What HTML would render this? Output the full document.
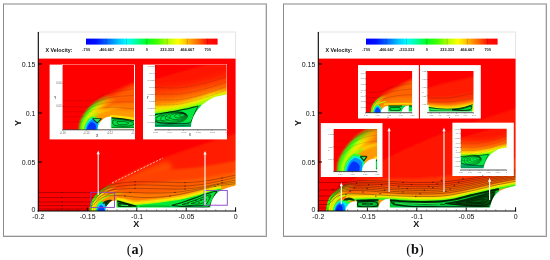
<!DOCTYPE html><html><head><meta charset="utf-8"><title>Figure</title><style>html,body{margin:0;padding:0;background:#fff}body{width:550px;height:260px;overflow:hidden}svg{display:block}text{font-family:"Liberation Sans",sans-serif;fill:#111}</style></head><body>
<svg width="550" height="260" viewBox="0 0 550 260">
<defs>
<linearGradient id="cbar" x1="0" x2="1" y1="0" y2="0">
<stop offset="0.000" stop-color="#0000ff"/>
<stop offset="0.077" stop-color="#0010ff"/>
<stop offset="0.155" stop-color="#0060ff"/>
<stop offset="0.250" stop-color="#00c8ff"/>
<stop offset="0.310" stop-color="#00ffff"/>
<stop offset="0.390" stop-color="#00ff90"/>
<stop offset="0.460" stop-color="#00ff20"/>
<stop offset="0.540" stop-color="#40ff00"/>
<stop offset="0.620" stop-color="#b0ff00"/>
<stop offset="0.700" stop-color="#ffff00"/>
<stop offset="0.780" stop-color="#ffb000"/>
<stop offset="0.860" stop-color="#ff6000"/>
<stop offset="0.925" stop-color="#ff1000"/>
<stop offset="1.000" stop-color="#ff0000"/>
</linearGradient>
<filter id="b05" x="-20%" y="-20%" width="140%" height="140%"><feGaussianBlur stdDeviation="0.5"/></filter>
<filter id="b08" x="-20%" y="-20%" width="140%" height="140%"><feGaussianBlur stdDeviation="0.8"/></filter>
<filter id="b12" x="-20%" y="-20%" width="140%" height="140%"><feGaussianBlur stdDeviation="1.2"/></filter>
<filter id="b2" x="-20%" y="-20%" width="140%" height="140%"><feGaussianBlur stdDeviation="2.0"/></filter>
<filter id="b3" x="-20%" y="-20%" width="140%" height="140%"><feGaussianBlur stdDeviation="3.0"/></filter>
<clipPath id="cpA"><rect x="38" y="58" width="198" height="153"/></clipPath>
<clipPath id="cpB"><rect x="318" y="58" width="198" height="153"/></clipPath>
<radialGradient id="noseA" gradientUnits="userSpaceOnUse" cx="100" cy="209" r="30"><stop offset="0" stop-color="#fff"/><stop offset="0.45" stop-color="#fff"/><stop offset="1" stop-color="#000"/></radialGradient>
<mask id="mNoseA" maskUnits="userSpaceOnUse" x="30" y="50" width="220" height="170"><rect x="30" y="50" width="220" height="170" fill="url(#noseA)"/></mask>
<radialGradient id="noseB" gradientUnits="userSpaceOnUse" cx="338" cy="209" r="30"><stop offset="0" stop-color="#fff"/><stop offset="0.45" stop-color="#fff"/><stop offset="1" stop-color="#000"/></radialGradient>
<mask id="mNoseB" maskUnits="userSpaceOnUse" x="310" y="50" width="220" height="170"><rect x="310" y="50" width="220" height="170" fill="url(#noseB)"/></mask>
</defs>
<rect width="550" height="260" fill="#fff"/>
<rect x="3" y="3" width="264" height="2" fill="#c2c2c2"/>
<rect x="4" y="235" width="263" height="1" fill="#dedede"/>
<rect x="265" y="5" width="1" height="231" fill="#dedede"/>
<rect x="3" y="236" width="264" height="1" fill="#929292"/>
<rect x="3" y="4" width="1" height="233" fill="#8c8c8c"/>
<rect x="266" y="4" width="1" height="233" fill="#9a9a9a"/>
<path d="M38.0 32H235.6V58.6" fill="none" stroke="#dcdcdc" stroke-width="0.8"/>
<rect x="86.0" y="38.6" width="131.6" height="6" fill="url(#cbar)"/>
<line x1="106.3" y1="38.6" x2="106.3" y2="44.6" stroke="#000" stroke-opacity="0.35" stroke-width="0.5"/>
<line x1="126.5" y1="38.6" x2="126.5" y2="44.6" stroke="#000" stroke-opacity="0.35" stroke-width="0.5"/>
<line x1="146.8" y1="38.6" x2="146.8" y2="44.6" stroke="#000" stroke-opacity="0.35" stroke-width="0.5"/>
<line x1="167.1" y1="38.6" x2="167.1" y2="44.6" stroke="#000" stroke-opacity="0.35" stroke-width="0.5"/>
<line x1="187.3" y1="38.6" x2="187.3" y2="44.6" stroke="#000" stroke-opacity="0.35" stroke-width="0.5"/>
<line x1="207.6" y1="38.6" x2="207.6" y2="44.6" stroke="#000" stroke-opacity="0.35" stroke-width="0.5"/>
<text x="45.6" y="51.5" font-size="5.3" font-weight="bold">X Velocity:</text>
<text x="86.2" y="51.2" font-size="3.85" font-weight="bold" text-anchor="middle">-700</text>
<text x="106.5" y="51.2" font-size="3.85" font-weight="bold" text-anchor="middle">-466.667</text>
<text x="126.7" y="51.2" font-size="3.85" font-weight="bold" text-anchor="middle">-233.333</text>
<text x="146.9" y="51.2" font-size="3.85" font-weight="bold" text-anchor="middle">0</text>
<text x="167.2" y="51.2" font-size="3.85" font-weight="bold" text-anchor="middle">233.333</text>
<text x="187.4" y="51.2" font-size="3.85" font-weight="bold" text-anchor="middle">466.667</text>
<text x="207.7" y="51.2" font-size="3.85" font-weight="bold" text-anchor="middle">700</text>
<rect x="283" y="3" width="264" height="2" fill="#c2c2c2"/>
<rect x="284" y="235" width="263" height="1" fill="#dedede"/>
<rect x="545" y="5" width="1" height="231" fill="#dedede"/>
<rect x="283" y="236" width="264" height="1" fill="#929292"/>
<rect x="283" y="4" width="1" height="233" fill="#8c8c8c"/>
<rect x="546" y="4" width="1" height="233" fill="#9a9a9a"/>
<path d="M318.0 32H515.6V58.6" fill="none" stroke="#dcdcdc" stroke-width="0.8"/>
<rect x="366.0" y="38.6" width="131.6" height="6" fill="url(#cbar)"/>
<line x1="386.3" y1="38.6" x2="386.3" y2="44.6" stroke="#000" stroke-opacity="0.35" stroke-width="0.5"/>
<line x1="406.5" y1="38.6" x2="406.5" y2="44.6" stroke="#000" stroke-opacity="0.35" stroke-width="0.5"/>
<line x1="426.8" y1="38.6" x2="426.8" y2="44.6" stroke="#000" stroke-opacity="0.35" stroke-width="0.5"/>
<line x1="447.1" y1="38.6" x2="447.1" y2="44.6" stroke="#000" stroke-opacity="0.35" stroke-width="0.5"/>
<line x1="467.4" y1="38.6" x2="467.4" y2="44.6" stroke="#000" stroke-opacity="0.35" stroke-width="0.5"/>
<line x1="487.6" y1="38.6" x2="487.6" y2="44.6" stroke="#000" stroke-opacity="0.35" stroke-width="0.5"/>
<text x="325.6" y="51.5" font-size="5.3" font-weight="bold">X Velocity:</text>
<text x="366.2" y="51.2" font-size="3.85" font-weight="bold" text-anchor="middle">-700</text>
<text x="386.4" y="51.2" font-size="3.85" font-weight="bold" text-anchor="middle">-466.667</text>
<text x="406.7" y="51.2" font-size="3.85" font-weight="bold" text-anchor="middle">-233.333</text>
<text x="426.9" y="51.2" font-size="3.85" font-weight="bold" text-anchor="middle">0</text>
<text x="447.2" y="51.2" font-size="3.85" font-weight="bold" text-anchor="middle">233.333</text>
<text x="467.4" y="51.2" font-size="3.85" font-weight="bold" text-anchor="middle">466.667</text>
<text x="487.7" y="51.2" font-size="3.85" font-weight="bold" text-anchor="middle">700</text>
<g clip-path="url(#cpA)">
<rect x="38" y="58" width="198" height="154" fill="#fe0000"/>
<g filter="url(#b12)">
<path d="M90.0 212.0 C90.1 210.8 90.0 207.2 90.6 205.0 C91.2 202.8 92.3 201.0 93.5 199.0 C94.7 197.0 96.2 194.8 98.0 193.0 C99.8 191.2 102.0 189.5 104.0 188.0 C106.0 186.5 107.7 185.5 110.0 184.0 C112.3 182.5 115.3 180.6 118.0 179.0 C120.7 177.4 122.3 176.2 126.0 174.3 C129.7 172.4 133.8 170.1 140.0 167.4 C146.2 164.7 153.0 161.7 163.0 158.0 C173.0 154.3 187.2 149.3 200.0 145.0 C212.8 140.7 233.3 134.2 240.0 132.0 L240.0 214.0 L90.0 214.0Z" fill="#ff1c00" />
</g><g filter="url(#b2)">
<path d="M97.0 197.0 C98.0 196.1 100.8 193.1 103.0 191.5 C105.2 189.9 107.5 188.9 110.0 187.5 C112.5 186.1 115.2 184.6 118.0 183.0 C120.8 181.4 123.3 179.9 127.0 178.0 C130.7 176.1 135.3 173.6 140.0 171.5 C144.7 169.4 150.3 167.1 155.0 165.5 C159.7 163.9 165.2 161.2 168.0 162.0 C170.8 162.8 173.3 167.5 172.0 170.0 C170.7 172.5 165.3 174.8 160.0 177.0 C154.7 179.2 146.7 181.2 140.0 183.0 C133.3 184.8 126.0 186.0 120.0 188.0 C114.0 190.0 106.7 193.8 104.0 195.0Z" fill="#ff4a00" />
</g><g filter="url(#b12)">
<path d="M91.5 212.0 C91.7 210.8 91.8 207.1 92.5 205.0 C93.2 202.9 94.2 201.2 95.5 199.5 C96.8 197.8 98.2 196.5 100.0 195.0 C101.8 193.5 103.7 191.9 106.0 190.5 C108.3 189.1 111.0 187.9 114.0 186.5 C117.0 185.1 119.7 183.8 124.0 182.0 C128.3 180.2 133.2 177.9 140.0 176.0 C146.8 174.1 155.0 172.0 165.0 170.5 C175.0 169.0 187.5 168.8 200.0 167.0 C212.5 165.2 233.3 161.2 240.0 160.0 L240.0 214.0 L90.0 214.0Z" fill="#ff4200" />
<path d="M93.0 212.0 C93.2 211.0 93.8 207.8 94.5 206.0 C95.2 204.2 96.2 202.6 97.5 201.0 C98.8 199.4 100.4 197.9 102.5 196.5 C104.6 195.1 107.1 193.8 110.0 192.5 C112.9 191.2 115.0 190.3 120.0 189.0 C125.0 187.7 131.7 185.8 140.0 184.5 C148.3 183.2 160.0 182.0 170.0 181.0 C180.0 180.0 188.3 180.2 200.0 178.5 C211.7 176.8 233.3 172.2 240.0 171.0 L240.0 214.0 L90.0 214.0Z" fill="#ff5c00" />
<path d="M100.0 200.0 C101.0 199.2 103.7 196.7 106.0 195.5 C108.3 194.3 110.7 193.5 114.0 193.0 C117.3 192.5 120.8 192.4 126.0 192.5 C131.2 192.6 137.7 193.6 145.0 193.5 C152.3 193.4 161.7 193.1 170.0 192.0 C178.3 190.9 187.5 188.7 195.0 187.0 C202.5 185.3 207.5 184.0 215.0 182.0 C222.5 180.0 235.8 176.2 240.0 175.0 L240.0 214.0 L90.0 214.0Z" fill="#ff7800" />
<path d="M104.0 199.0 C105.0 198.6 107.7 196.8 110.0 196.5 C112.3 196.2 114.7 196.5 118.0 197.0 C121.3 197.5 125.5 198.8 130.0 199.5 C134.5 200.2 139.2 201.1 145.0 201.0 C150.8 200.9 158.3 200.1 165.0 199.0 C171.7 197.9 178.3 196.2 185.0 194.5 C191.7 192.8 198.8 190.7 205.0 189.0 C211.2 187.3 216.2 186.0 222.0 184.5 C227.8 183.0 237.0 180.8 240.0 180.0 L240.0 214.0 L90.0 214.0Z" fill="#ff9800" />
</g>
<g mask="url(#mNoseA)"><g filter="url(#b05)">
<path d="M90.3 212.0 C90.4 210.8 90.4 207.2 91.0 205.0 C91.6 202.8 92.8 200.9 94.0 199.0 C95.2 197.1 96.8 195.2 98.5 193.5 C100.2 191.8 102.2 190.3 104.5 188.8 C106.8 187.3 109.1 186.0 112.0 184.5 C114.9 183.0 120.3 180.8 122.0 180.0" fill="none" stroke="#30ff00" stroke-width="2.00" stroke-opacity="1.00" />
<path d="M92.3 212.0 C92.4 210.9 92.4 207.5 93.0 205.5 C93.6 203.5 94.8 201.7 96.0 200.0 C97.2 198.3 98.6 196.8 100.3 195.3 C102.0 193.8 103.9 192.3 106.0 191.0 C108.1 189.7 110.2 188.8 113.0 187.5 C115.8 186.2 121.3 184.2 123.0 183.5" fill="none" stroke="#d8ff00" stroke-width="1.80" stroke-opacity="1.00" />
<path d="M94.0 212.0 C94.1 211.0 94.2 207.8 94.8 206.0 C95.4 204.2 96.4 202.8 97.6 201.3 C98.8 199.8 100.1 198.3 101.8 197.0 C103.5 195.7 105.3 194.4 107.5 193.3 C109.7 192.2 112.1 191.4 115.0 190.5 C117.9 189.6 123.3 188.4 125.0 188.0" fill="none" stroke="#ffd800" stroke-width="1.80" stroke-opacity="1.00" />
<path d="M95.6 212.0 C95.7 211.2 95.8 208.6 96.4 207.0 C97.0 205.4 97.9 203.9 99.0 202.5 C100.1 201.1 101.4 199.8 103.0 198.7 C104.6 197.6 106.3 196.6 108.5 195.8 C110.7 195.0 113.1 194.4 116.0 193.8 C118.9 193.2 124.3 192.7 126.0 192.5" fill="none" stroke="#a0ff00" stroke-width="1.60" stroke-opacity="1.00" />
</g></g>
<g filter="url(#b05)">
<path d="M95.5 212 Q96 204 101 201.5 Q106.5 201.3 110 203.6 L110 212Z" fill="#00ff60" />
<path d="M96.5 212 Q97 205 101 203 Q105 203.4 107.4 205.6 L107.4 212Z" fill="#00d0ff" />
<path d="M97.5 212 Q98 206.5 101 205 Q104 206 105.3 212Z" fill="#0040ff" />
</g>
<g filter="url(#b05)">
<path d="M122.0 198.4 C123.0 198.7 125.8 199.7 128.0 200.2 C130.2 200.7 132.7 201.4 135.0 201.6 C137.3 201.8 139.5 201.4 142.0 201.2 C144.5 201.0 146.2 200.8 150.0 200.4 C153.8 200.0 160.8 199.1 165.0 198.6 C169.2 198.1 171.7 197.7 175.0 197.2 C178.3 196.7 181.3 196.2 185.0 195.4 C188.7 194.6 192.8 193.4 197.0 192.2 C201.2 191.0 206.0 189.2 210.0 188.0 C214.0 186.8 219.2 185.7 221.0 185.2" fill="none" stroke="#ffb800" stroke-width="2.20" stroke-opacity="0.90" />
<path d="M116.5 198.5 C117.4 198.7 120.1 199.4 122.0 199.9 C123.9 200.4 125.8 201.2 128.0 201.7 C130.2 202.2 132.7 202.9 135.0 203.1 C137.3 203.3 139.5 202.9 142.0 202.7 C144.5 202.5 146.2 202.3 150.0 201.9 C153.8 201.5 160.8 200.6 165.0 200.1 C169.2 199.6 171.7 199.2 175.0 198.7 C178.3 198.2 181.3 197.7 185.0 196.9 C188.7 196.1 192.8 194.9 197.0 193.7 C201.2 192.5 206.0 190.7 210.0 189.5 C214.0 188.3 219.2 187.2 221.0 186.7" fill="none" stroke="#ffe400" stroke-width="2.20" stroke-opacity="1.00" />
<path d="M116.5 200.0 C117.4 200.2 120.1 200.9 122.0 201.4 C123.9 201.9 125.8 202.7 128.0 203.2 C130.2 203.7 132.7 204.4 135.0 204.6 C137.3 204.8 139.5 204.4 142.0 204.2 C144.5 204.0 146.2 203.8 150.0 203.4 C153.8 203.0 160.8 202.1 165.0 201.6 C169.2 201.1 171.7 200.7 175.0 200.2 C178.3 199.7 181.3 199.2 185.0 198.4 C188.7 197.6 192.8 196.4 197.0 195.2 C201.2 194.0 206.0 192.2 210.0 191.0 C214.0 189.8 219.2 188.7 221.0 188.2" fill="none" stroke="#b0ff00" stroke-width="1.50" stroke-opacity="1.00" />
<path d="M116.5 200.4 C117.4 200.6 120.1 201.3 122.0 201.8 C123.9 202.3 125.8 203.1 128.0 203.6 C130.2 204.1 132.7 204.8 135.0 205.0 C137.3 205.2 139.5 204.8 142.0 204.6 C144.5 204.4 146.2 204.2 150.0 203.8 C153.8 203.4 160.8 202.5 165.0 202.0 C169.2 201.5 171.7 201.1 175.0 200.6 C178.3 200.1 181.3 199.6 185.0 198.8 C188.7 198.0 192.8 196.8 197.0 195.6 C201.2 194.4 206.0 192.6 210.0 191.4 C214.0 190.2 219.2 189.1 221.0 188.6 L221.0 208.0 L116.5 208.0Z" fill="#00e838" />
</g>
<path d="M160.0 207.6 C162.5 207.3 169.2 206.3 175.0 206.0 C180.8 205.7 189.0 205.2 195.0 205.5 C201.0 205.8 208.3 207.2 211.0 207.6Z" fill="#00c060" filter="url(#b05)"/>
<path d="M117.3 200.8 L136 206.2 L134 207.3 L118 207 Z" fill="#001800" fill-opacity="0.55"/>
<path d="M117.3 200.9 L136.5 206.4" fill="none" stroke="#000" stroke-width="1.30" stroke-opacity="0.90" />
<path d="M119.0 203.2 C120.2 203.4 123.8 204.1 126.0 204.6 C128.2 205.1 132.2 205.9 132.0 206.2 C131.8 206.5 127.2 206.6 125.0 206.6 C122.8 206.6 120.0 206.6 119.0 206.0 C118.0 205.4 119.0 203.7 119.0 203.2" fill="none" stroke="#000" stroke-width="0.70" stroke-opacity="0.80" />
<path d="M121 205.3 L128 205.6" fill="none" stroke="#40ff60" stroke-width="0.90" stroke-opacity="0.90" />
<path d="M171.6 205.4 C173.8 204.7 180.8 202.8 185.0 201.4 C189.2 200.1 193.8 198.4 197.0 197.3 C200.2 196.2 200.8 195.6 204.0 194.6 C207.2 193.6 214.2 191.0 216.0 191.2 C217.8 191.3 215.2 193.7 214.5 195.5 C213.8 197.3 212.6 200.1 211.5 202.0 C210.4 203.9 211.6 206.2 208.0 207.0 C204.4 207.8 196.1 207.2 190.0 206.9 C183.9 206.6 174.7 205.7 171.6 205.4" fill="none" stroke="#001000" stroke-width="1.10" stroke-opacity="0.85" />
<path d="M182.0 204.6 C183.8 204.0 189.5 202.2 193.0 201.0 C196.5 199.8 200.1 198.2 203.0 197.2 C205.9 196.2 209.6 194.4 210.5 195.0 C211.4 195.6 209.5 198.8 208.5 200.5 C207.5 202.2 207.2 204.2 204.5 205.0 C201.8 205.8 195.8 205.7 192.0 205.6 C188.2 205.5 183.7 204.8 182.0 204.6" fill="none" stroke="#000" stroke-width="0.80" stroke-opacity="0.80" />
<path d="M191.0 203.6 C192.3 203.2 196.5 201.8 199.0 201.0 C201.5 200.2 205.1 198.4 206.0 198.6 C206.9 198.8 205.7 201.1 204.5 202.0 C203.3 202.9 201.2 203.7 199.0 204.0 C196.8 204.3 192.3 203.7 191.0 203.6" fill="none" stroke="#000" stroke-width="0.70" stroke-opacity="0.80" />
<path d="M140.0 206.4 C142.5 206.3 150.0 206.0 155.0 206.0 C160.0 206.0 167.5 206.2 170.0 206.2" fill="none" stroke="#003000" stroke-width="0.60" stroke-opacity="0.60" />
<circle cx="196.0" cy="200.5" r="0.7" fill="#000" fill-opacity="0.75"/>
<circle cx="201.0" cy="199.6" r="0.7" fill="#000" fill-opacity="0.75"/>
<circle cx="199.0" cy="202.6" r="0.7" fill="#000" fill-opacity="0.75"/>
<circle cx="205.0" cy="201.2" r="0.7" fill="#000" fill-opacity="0.75"/>
<circle cx="209.0" cy="197.0" r="0.7" fill="#000" fill-opacity="0.75"/>
<circle cx="188.0" cy="203.4" r="0.7" fill="#000" fill-opacity="0.75"/>
<path d="M38 192.6H96.0" fill="none" stroke="#200000" stroke-width="0.45" stroke-opacity="0.75" />
<circle cx="62" cy="192.6" r="0.7" fill="#300" fill-opacity="0.7"/>
<path d="M38 197.6H94.5" fill="none" stroke="#200000" stroke-width="0.45" stroke-opacity="0.75" />
<circle cx="62" cy="197.6" r="0.7" fill="#300" fill-opacity="0.7"/>
<path d="M38 202.0H93.0" fill="none" stroke="#200000" stroke-width="0.45" stroke-opacity="0.75" />
<circle cx="62" cy="202.0" r="0.7" fill="#300" fill-opacity="0.7"/>
<path d="M38 205.7H92.0" fill="none" stroke="#200000" stroke-width="0.45" stroke-opacity="0.75" />
<circle cx="62" cy="205.7" r="0.7" fill="#300" fill-opacity="0.7"/>
<path d="M38 209.0H91.0" fill="none" stroke="#200000" stroke-width="0.45" stroke-opacity="0.75" />
<circle cx="62" cy="209.0" r="0.7" fill="#300" fill-opacity="0.7"/>
<path d="M96.0 192.6 C97.3 191.8 100.8 188.9 104.0 187.5 C107.2 186.1 109.8 184.9 115.0 184.0 C120.2 183.1 127.5 182.1 135.0 181.8 C142.5 181.5 151.7 181.9 160.0 182.0 C168.3 182.1 177.5 182.8 185.0 182.6 C192.5 182.4 198.8 181.8 205.0 181.0 C211.2 180.2 216.8 179.0 222.0 178.0 C227.2 177.0 233.7 175.5 236.0 175.0" fill="none" stroke="#200800" stroke-width="0.45" stroke-opacity="0.70" />
<circle cx="135.0" cy="181.8" r="0.7" fill="#200" fill-opacity="0.65"/>
<circle cx="185.0" cy="182.6" r="0.7" fill="#200" fill-opacity="0.65"/>
<circle cx="222.0" cy="178.0" r="0.7" fill="#200" fill-opacity="0.65"/>
<path d="M95.5 195.0 C96.8 194.2 99.9 191.3 103.0 190.0 C106.1 188.7 108.7 187.8 114.0 187.0 C119.3 186.2 127.3 185.3 135.0 185.0 C142.7 184.7 151.7 185.1 160.0 185.3 C168.3 185.5 177.5 186.2 185.0 186.0 C192.5 185.8 198.8 184.9 205.0 184.0 C211.2 183.1 216.8 181.7 222.0 180.6 C227.2 179.5 233.7 178.0 236.0 177.5" fill="none" stroke="#200800" stroke-width="0.45" stroke-opacity="0.70" />
<circle cx="135.0" cy="185.0" r="0.7" fill="#200" fill-opacity="0.65"/>
<circle cx="185.0" cy="186.0" r="0.7" fill="#200" fill-opacity="0.65"/>
<circle cx="222.0" cy="180.6" r="0.7" fill="#200" fill-opacity="0.65"/>
<path d="M94.5 197.6 C95.8 196.8 98.9 193.9 102.0 192.6 C105.1 191.3 107.5 190.5 113.0 189.8 C118.5 189.1 127.2 188.6 135.0 188.4 C142.8 188.2 151.7 188.7 160.0 188.8 C168.3 188.9 177.5 189.4 185.0 189.0 C192.5 188.6 198.8 187.4 205.0 186.4 C211.2 185.4 216.8 183.9 222.0 182.8 C227.2 181.7 233.7 180.5 236.0 180.0" fill="none" stroke="#200800" stroke-width="0.45" stroke-opacity="0.70" />
<circle cx="135.0" cy="188.4" r="0.7" fill="#200" fill-opacity="0.65"/>
<circle cx="185.0" cy="189.0" r="0.7" fill="#200" fill-opacity="0.65"/>
<circle cx="222.0" cy="182.8" r="0.7" fill="#200" fill-opacity="0.65"/>
<path d="M93.0 202.0 C94.3 201.0 97.8 197.5 101.0 196.0 C104.2 194.5 107.2 193.6 112.0 193.0 C116.8 192.4 123.7 192.4 130.0 192.4 C136.3 192.4 142.5 193.0 150.0 193.0 C157.5 193.0 166.7 193.1 175.0 192.4 C183.3 191.7 192.8 189.9 200.0 188.6 C207.2 187.3 212.0 185.7 218.0 184.6 C224.0 183.5 233.0 182.4 236.0 182.0" fill="none" stroke="#200800" stroke-width="0.45" stroke-opacity="0.70" />
<circle cx="130.0" cy="192.4" r="0.7" fill="#200" fill-opacity="0.65"/>
<circle cx="175.0" cy="192.4" r="0.7" fill="#200" fill-opacity="0.65"/>
<circle cx="218.0" cy="184.6" r="0.7" fill="#200" fill-opacity="0.65"/>
<path d="M92.0 205.7 C93.3 204.6 97.0 200.7 100.0 199.0 C103.0 197.3 105.8 196.0 110.0 195.5 C114.2 195.0 119.2 195.7 125.0 196.0 C130.8 196.3 137.5 197.6 145.0 197.6 C152.5 197.6 161.7 197.1 170.0 196.0 C178.3 194.9 187.5 192.6 195.0 191.0 C202.5 189.4 208.2 187.6 215.0 186.4 C221.8 185.2 232.5 184.1 236.0 183.6" fill="none" stroke="#200800" stroke-width="0.45" stroke-opacity="0.70" />
<circle cx="125.0" cy="196.0" r="0.7" fill="#200" fill-opacity="0.65"/>
<circle cx="170.0" cy="196.0" r="0.7" fill="#200" fill-opacity="0.65"/>
<circle cx="215.0" cy="186.4" r="0.7" fill="#200" fill-opacity="0.65"/>
<path d="M112 183 L163 158" fill="none" stroke="#fff" stroke-width="0.70" stroke-opacity="0.95" stroke-dasharray="2.2 1.3"/>
<path d="M105.3 212 A10.4 10.6 0 0 1 115.7 200.6 L116.4 200.6 L116.4 207.6 L211 207.6 L211 212Z" fill="#fff" />
<path d="M210.2 208.0 C210.4 207.0 210.7 203.9 211.3 202.0 C211.9 200.1 212.8 198.2 214.0 196.5 C215.2 194.8 216.8 193.1 218.5 191.8 C220.2 190.6 222.1 189.8 224.0 189.0 C225.9 188.2 227.8 187.6 230.0 187.0 C232.2 186.4 235.8 185.6 237.0 185.3 L237.0 212.0 L210.2 212.0Z" fill="#fff" />
<path d="M102.3 203.8 C102.7 203.4 103.5 201.8 104.5 201.2 C105.5 200.5 106.7 200.1 108.0 199.9 C109.3 199.7 112.0 199.8 112.3 200.1 C112.6 200.4 110.8 201.2 110.0 202.0 C109.2 202.8 108.3 203.9 107.6 204.6 C106.9 205.3 106.1 206.6 105.6 206.4 C105.1 206.2 104.8 204.1 104.6 203.6Z" fill="#001000" fill-opacity="0.85"/>
<rect x="235.6" y="57" width="2" height="156" fill="#fff"/><rect x="37" y="57" width="200" height="1.6" fill="#fff"/>
</g>
<rect x="90.8" y="192.3" width="23.7" height="15.1" fill="none" stroke="#8a3fc4" stroke-width="0.9"/>
<rect x="204.2" y="190.4" width="23.1" height="14.8" fill="none" stroke="#8a3fc4" stroke-width="0.9"/>
<line x1="98.2" y1="153.0" x2="98.2" y2="195.0" stroke="#fff" stroke-width="1.1"/>
<path d="M98.2 150.5L96.6 154.2L99.8 154.2Z" fill="#fff"/>
<line x1="205.0" y1="153.4" x2="205.0" y2="205.0" stroke="#fff" stroke-width="1.1"/>
<path d="M205.0 150.9L203.4 154.6L206.6 154.6Z" fill="#fff"/>
<rect x="49.6" y="64.6" width="85.4" height="74.8" fill="#fff"/>
<clipPath id="ci1"><rect x="62" y="65" width="72" height="65"/></clipPath>
<g clip-path="url(#ci1)">
<rect x="61.6" y="64.0" width="73.4" height="66.8" fill="#fe0000"/>
<g transform="translate(79.00 129.80) scale(1.000) translate(-79 -129)">
<g filter="url(#b12)">
<path d="M79.0 130.0 C79.1 128.7 79.1 124.5 79.8 122.0 C80.5 119.5 81.6 117.3 83.0 115.0 C84.4 112.7 86.0 110.3 88.0 108.0 C90.0 105.7 92.3 103.2 95.0 101.0 C97.7 98.8 100.8 96.8 104.0 95.0 C107.2 93.2 110.7 91.6 114.0 90.0 C117.3 88.4 120.7 87.0 124.0 85.5 C127.3 84.0 129.7 82.8 134.0 81.0 C138.3 79.2 144.0 77.0 150.0 75.0 C156.0 73.0 166.7 70.0 170.0 69.0 L170.0 131.0 L79.0 131.0Z" fill="#ff2000" />
<path d="M81.2 131.4 C81.4 130.0 81.4 125.9 82.0 123.4 C82.7 120.9 83.9 118.7 85.2 116.4 C86.6 114.0 88.2 111.7 90.2 109.4 C92.2 107.0 94.6 104.5 97.2 102.4 C99.9 100.2 103.1 98.2 106.2 96.4 C109.4 94.5 112.9 93.0 116.2 91.4 C119.6 89.8 122.9 88.4 126.2 86.9 C129.6 85.4 131.9 84.1 136.2 82.4 C140.6 80.6 146.2 78.4 152.2 76.4 C158.2 74.4 168.9 71.4 172.2 70.4 L170.0 131.0 L79.0 131.0Z" fill="#ff4000" />
<path d="M84.0 133.0 C84.1 131.7 84.1 127.5 84.8 125.0 C85.4 122.5 86.6 120.4 88.0 118.0 C89.3 115.7 91.0 113.4 93.0 111.0 C95.0 108.7 97.3 106.2 100.0 104.0 C102.6 101.9 105.8 99.9 109.0 98.0 C112.1 96.2 115.6 94.6 119.0 93.0 C122.3 91.4 125.6 90.0 128.9 88.5 C132.3 87.0 134.6 85.8 138.9 84.0 C143.3 82.3 148.9 80.0 154.9 78.0 C160.9 76.0 171.6 73.0 174.9 72.0 L170.0 131.0 L79.0 131.0Z" fill="#ff5c00" />
<path d="M88.0 120.0 C89.0 118.5 91.7 113.3 94.0 111.0 C96.3 108.7 99.0 107.2 102.0 106.0 C105.0 104.8 108.3 104.1 112.0 103.5 C115.7 102.9 119.3 102.8 124.0 102.5 C128.7 102.2 132.3 102.2 140.0 102.0 C147.7 101.8 165.0 101.2 170.0 101.0 L170.0 131.0 L79.0 131.0Z" fill="#ff7800" />
<path d="M92.0 122.0 C92.8 120.7 95.0 116.0 97.0 114.0 C99.0 112.0 101.3 110.8 104.0 110.0 C106.7 109.2 109.7 109.1 113.0 109.0 C116.3 108.9 119.5 109.3 124.0 109.5 C128.5 109.7 132.3 109.9 140.0 110.0 C147.7 110.1 165.0 110.0 170.0 110.0 L170.0 131.0 L79.0 131.0Z" fill="#ff9a00" />
</g>
<radialGradient id="mk1g" gradientUnits="userSpaceOnUse" cx="92" cy="127" r="40"><stop offset="0" stop-color="#fff"/><stop offset="0.5" stop-color="#fff"/><stop offset="0.95" stop-color="#000"/></radialGradient>
<mask id="mk1" maskUnits="userSpaceOnUse" x="40" y="40" width="160" height="100"><rect x="40" y="40" width="160" height="100" fill="url(#mk1g)"/></mask>
<g mask="url(#mk1)"><g filter="url(#b08)">
<path d="M80.9 131.7 C81.0 130.2 81.0 125.3 81.7 122.7 C82.3 120.0 83.5 118.0 84.9 115.7 C86.3 113.3 88.0 110.9 90.1 108.7 C92.1 106.4 94.4 104.2 97.1 102.2 C99.7 100.2 102.9 98.4 106.1 96.7 C109.2 95.0 112.7 93.5 116.1 92.0 C119.4 90.5 124.4 88.4 126.1 87.7" fill="none" stroke="#30ff10" stroke-width="3.60" stroke-opacity="1.00" />
<path d="M83.3 133.1 C83.4 131.6 83.4 126.8 84.1 124.1 C84.8 121.5 85.9 119.5 87.3 117.1 C88.7 114.8 90.5 112.4 92.5 110.1 C94.5 107.9 96.8 105.6 99.5 103.6 C102.2 101.6 105.3 99.8 108.5 98.1 C111.7 96.4 115.2 94.9 118.5 93.4 C121.8 91.9 126.8 89.9 128.5 89.1" fill="none" stroke="#c8ff00" stroke-width="2.40" stroke-opacity="1.00" />
<path d="M85.2 134.3 C85.3 132.8 85.3 128.0 86.0 125.3 C86.7 122.6 87.8 120.6 89.2 118.3 C90.6 116.0 92.4 113.5 94.4 111.3 C96.4 109.0 98.7 106.8 101.4 104.8 C104.1 102.8 107.2 101.0 110.4 99.3 C113.6 97.6 117.1 96.1 120.4 94.6 C123.7 93.1 128.7 91.0 130.4 90.3" fill="none" stroke="#ffe400" stroke-width="2.40" stroke-opacity="1.00" />
<path d="M87.2 135.5 C87.3 134.0 87.3 129.2 88.0 126.5 C88.6 123.8 89.8 121.8 91.2 119.5 C92.6 117.2 94.3 114.8 96.4 112.5 C98.4 110.3 100.7 108.0 103.4 106.0 C106.0 104.0 109.2 102.2 112.4 100.5 C115.5 98.8 119.0 97.3 122.4 95.8 C125.7 94.3 130.7 92.2 132.4 91.5" fill="none" stroke="#ffb400" stroke-width="2.40" stroke-opacity="0.90" />
<path d="M89.0 131.0 C89.2 129.3 89.0 123.8 90.0 121.0 C91.0 118.2 93.0 116.2 95.0 114.5 C97.0 112.8 99.3 111.6 102.0 110.5 C104.7 109.4 107.7 108.8 111.0 108.0 C114.3 107.2 118.2 106.8 122.0 106.0 C125.8 105.2 132.0 103.5 134.0 103.0" fill="none" stroke="#ffe000" stroke-width="2.20" stroke-opacity="0.90" />
<path d="M87.0 131.0 C87.2 129.5 87.2 124.5 88.0 122.0 C88.8 119.5 90.3 117.6 92.0 116.0 C93.7 114.4 97.0 113.1 98.0 112.5" fill="none" stroke="#80ff00" stroke-width="2.40" stroke-opacity="0.90" />
</g></g>
<g filter="url(#b05)">
<path d="M83.4 131 Q84 119.5 91.6 115.6 Q97 115.4 100 119.5 L98.5 131Z" fill="#30ff30" />
<path d="M84.6 131 Q85.3 121 91.9 117.3 Q96.3 117.3 98.8 120.6 L97.9 131Z" fill="#00f0e0" />
<path d="M85.6 131 Q86.2 122 92 118.8 Q95.8 119 97.9 122 L97.4 131Z" fill="#0090ff" />
<path d="M86.6 131 Q87 124 91.2 121.2 Q94.6 121.6 96 125 L95.4 131Z" fill="#0030ff" />
</g>
<g transform="translate(101.3 117.6) scale(1.70 1.21) translate(-101.3 -117.6)">
<path d="M96.4 117.7 L98.9 121 L101.2 117.7Z" fill="#30e850" />
<path d="M96.2 117.8 L98.9 121.3 L101.4 117.9" fill="none" stroke="#001000" stroke-width="0.66" stroke-opacity="0.85" />
<path d="M96.2 117.6 L101.4 117.6" fill="none" stroke="#001000" stroke-width="0.59" stroke-opacity="0.85" />
</g>
<g transform="translate(0.0 -0.2)">
<g filter="url(#b05)">
<path d="M110 115.5 Q125 116 150 121" fill="none" stroke="#ffe000" stroke-width="2.20" stroke-opacity="1.00" />
<path d="M110.5 116.8 Q125 117.5 150 122.5 V128 H110.5Z" fill="#00e040" />
</g>
<path d="M111.5 117.3 Q124 118 138 121" fill="none" stroke="#001000" stroke-width="1.10" stroke-opacity="0.85" />
<path d="M113.0 119.5 C114.5 119.5 119.0 119.0 122.0 119.3 C125.0 119.5 129.0 120.3 131.0 121.0 C133.0 121.7 134.5 122.8 134.0 123.5 C133.5 124.2 130.7 125.2 128.0 125.5 C125.3 125.8 120.5 125.6 118.0 125.3 C115.5 125.0 113.8 124.5 113.0 123.5 C112.2 122.5 113.0 120.2 113.0 119.5" fill="none" stroke="#000" stroke-width="0.70" stroke-opacity="0.80" />
<path d="M117.0 121.0 C118.2 121.0 122.0 120.8 124.0 121.0 C126.0 121.2 128.8 122.0 129.0 122.5 C129.2 123.0 126.8 123.8 125.0 124.0 C123.2 124.2 119.3 124.1 118.0 123.6 C116.7 123.1 117.2 121.4 117.0 121.0" fill="none" stroke="#000" stroke-width="0.60" stroke-opacity="0.80" />
</g>
<path d="M111.5 126.5 H138" fill="none" stroke="#003000" stroke-width="0.80" stroke-opacity="0.70" />
<path d="M60 100.0 H93.0" fill="none" stroke="#300" stroke-width="0.35" stroke-opacity="0.40" />
<path d="M60 106.0 H89.0" fill="none" stroke="#300" stroke-width="0.35" stroke-opacity="0.40" />
<path d="M60 111.0 H86.0" fill="none" stroke="#300" stroke-width="0.35" stroke-opacity="0.40" />
<path d="M60 116.0 H83.5" fill="none" stroke="#300" stroke-width="0.35" stroke-opacity="0.40" />
<path d="M60 121.0 H81.5" fill="none" stroke="#300" stroke-width="0.35" stroke-opacity="0.40" />
<path d="M93.0 100.0 C94.5 99.2 98.5 96.5 102.0 95.0 C105.5 93.5 108.7 92.2 114.0 91.0 C119.3 89.8 130.7 88.5 134.0 88.0" fill="none" stroke="#300" stroke-width="0.35" stroke-opacity="0.40" />
<path d="M89.0 106.0 C90.5 105.1 94.2 102.1 98.0 100.5 C101.8 98.9 106.0 97.5 112.0 96.5 C118.0 95.5 130.3 94.8 134.0 94.5" fill="none" stroke="#300" stroke-width="0.35" stroke-opacity="0.40" />
<path d="M86.0 111.0 C87.5 110.0 91.0 106.6 95.0 105.0 C99.0 103.4 103.5 102.2 110.0 101.5 C116.5 100.8 130.0 101.1 134.0 101.0" fill="none" stroke="#300" stroke-width="0.35" stroke-opacity="0.40" />
<path d="M83.5 116.0 C84.9 114.9 87.9 111.1 92.0 109.5 C96.1 107.9 101.0 106.8 108.0 106.5 C115.0 106.2 129.7 107.8 134.0 108.0" fill="none" stroke="#300" stroke-width="0.35" stroke-opacity="0.40" />
<path d="M97.6 131 L97.6 129 A13.2 13.2 0 0 1 110.8 115.8 L111.2 115.8 L111.2 127.4 L170 127.4 L170 131Z" fill="#fff" />
</g>
</g>
<path d="M62 64H62.60V131H62ZM61 129.80H135V130H61Z" fill="#fff"/>
<line x1="62.3" y1="129.8" x2="134.0" y2="129.8" stroke="#111" stroke-width="0.7"/>
<g fill="#555" font-size="2.7">
<line x1="62.8" y1="129.8" x2="62.8" y2="130.8" stroke="#333" stroke-width="0.4"/>
<text x="62.8" y="133.5" text-anchor="middle" style="fill:#666">-0.16</text>
<line x1="86.4" y1="129.8" x2="86.4" y2="130.8" stroke="#333" stroke-width="0.4"/>
<text x="86.4" y="133.5" text-anchor="middle" style="fill:#666">-0.14</text>
<line x1="110.0" y1="129.8" x2="110.0" y2="130.8" stroke="#333" stroke-width="0.4"/>
<text x="110.0" y="133.5" text-anchor="middle" style="fill:#666">-0.12</text>
<line x1="133.6" y1="129.8" x2="133.6" y2="130.8" stroke="#333" stroke-width="0.4"/>
<text x="133.6" y="133.5" text-anchor="middle" style="fill:#666">-0.1</text>
<line x1="61.8" y1="106.0" x2="63.2" y2="106.0" stroke="#333" stroke-width="0.4"/>
<text x="61.4" y="106.9" text-anchor="end" style="fill:#666">0.02</text>
<line x1="61.8" y1="83.0" x2="63.2" y2="83.0" stroke="#333" stroke-width="0.4"/>
<text x="61.4" y="83.9" text-anchor="end" style="fill:#666">0.04</text>
</g>
<text x="97.3" y="136.8" font-size="2.8" font-weight="bold" text-anchor="middle" style="fill:#333">X</text>
<text x="55.2" y="98.5" font-size="2.8" font-weight="bold" text-anchor="middle" style="fill:#333">Y</text>
<rect x="143.0" y="64.6" width="84.0" height="74.8" fill="#fff"/>
<clipPath id="ci2"><rect x="155" y="65" width="72" height="65"/></clipPath>
<g clip-path="url(#ci2)">
<rect x="154.0" y="64.0" width="73.6" height="66.8" fill="#fe0000"/>
<g transform="translate(155.00 65.00) scale(1.000 1.013) translate(-155 -65)">
<path d="M150 80 L215 62 L232 62 L232 131 L150 131Z" fill="#ff1200" filter="url(#b08)"/>
<g filter="url(#b2)">
<path d="M150.0 85.0 C154.2 84.7 166.7 84.0 175.0 83.0 C183.3 82.0 190.8 81.0 200.0 79.0 C209.2 77.0 225.0 72.3 230.0 71.0 L230.0 131.0 L150.0 131.0Z" fill="#ff2400" />
<path d="M150.0 90.5 C154.2 90.2 166.7 90.0 175.0 89.0 C183.3 88.0 190.8 86.5 200.0 84.5 C209.2 82.5 225.0 78.2 230.0 77.0 L230.0 131.0 L150.0 131.0Z" fill="#ff4400" />
<path d="M150.0 96.5 C154.2 96.2 166.7 96.1 175.0 95.0 C183.3 93.9 190.8 92.1 200.0 90.0 C209.2 87.9 225.0 83.8 230.0 82.5 L230.0 131.0 L150.0 131.0Z" fill="#ff6800" />
<path d="M150.0 101.5 C154.2 101.2 166.7 101.2 175.0 100.0 C183.3 98.8 190.8 96.7 200.0 94.5 C209.2 92.3 225.0 88.2 230.0 87.0 L230.0 131.0 L150.0 131.0Z" fill="#ff9000" />
</g>
<g filter="url(#b08)">
<path d="M150.0 105.0 C154.2 104.7 167.0 104.3 175.0 103.0 C183.0 101.7 191.8 98.8 198.0 97.0 C204.2 95.2 206.7 93.9 212.0 92.5 C217.3 91.1 227.0 89.2 230.0 88.5 L230.0 131.0 L150.0 131.0Z" fill="#ffc800" />
<path d="M150.0 108.0 C154.2 107.6 167.3 106.8 175.0 105.5 C182.7 104.2 190.2 101.8 196.0 100.0 C201.8 98.2 204.3 96.5 210.0 95.0 C215.7 93.5 226.7 91.7 230.0 91.0 L230.0 131.0 L150.0 131.0Z" fill="#f0f000" />
<path d="M150.0 111.0 C154.2 110.5 167.7 109.2 175.0 108.0 C182.3 106.8 189.2 104.8 194.0 103.5 C198.8 102.2 200.7 101.2 204.0 100.0 C207.3 98.8 209.7 97.7 214.0 96.5 C218.3 95.3 227.3 93.6 230.0 93.0 L230.0 131.0 L150.0 131.0Z" fill="#90ff00" />
</g>
<path d="M150.0 113.2 C152.5 112.9 160.0 112.2 165.0 111.5 C170.0 110.8 175.5 109.9 180.0 109.0 C184.5 108.1 188.5 107.1 192.0 106.3 C195.5 105.5 199.5 104.4 201.0 104.0 L201.0 128.0 L150.0 128.0Z" fill="#00e840" filter="url(#b05)"/>
<path d="M150.0 121.5 C153.3 121.7 162.7 122.4 170.0 122.5 C177.3 122.6 190.0 122.1 194.0 122.0 L194.0 128.0 L150.0 128.0Z" fill="#00b868" filter="url(#b08)"/>
<path d="M155.0 114.0 C157.5 113.6 165.0 112.4 170.0 111.5 C175.0 110.6 180.3 109.8 185.0 108.8 C189.7 107.8 195.8 106.1 198.0 105.6" fill="none" stroke="#001000" stroke-width="1.00" stroke-opacity="0.85" />
<path d="M198.0 105.6 C197.5 106.7 196.0 109.8 195.0 112.0 C194.0 114.2 193.2 117.2 192.0 119.0 C190.8 120.8 191.7 121.9 188.0 122.5 C184.3 123.1 175.5 123.0 170.0 122.8 C164.5 122.5 157.5 121.3 155.0 121.0" fill="none" stroke="#001000" stroke-width="0.90" stroke-opacity="0.80" />
<ellipse cx="182.0" cy="114.6" rx="3.0" ry="1.2" fill="none" stroke="#000" stroke-opacity="0.75" stroke-width="0.55" transform="rotate(-7 181 114.5)"/>
<ellipse cx="179.9" cy="114.9" rx="5.6" ry="2.1" fill="none" stroke="#000" stroke-opacity="0.75" stroke-width="0.55" transform="rotate(-7 181 114.5)"/>
<ellipse cx="177.8" cy="115.2" rx="8.2" ry="3.1" fill="none" stroke="#000" stroke-opacity="0.75" stroke-width="0.55" transform="rotate(-7 181 114.5)"/>
<ellipse cx="175.7" cy="115.5" rx="10.8" ry="4.0" fill="none" stroke="#000" stroke-opacity="0.75" stroke-width="0.55" transform="rotate(-7 181 114.5)"/>
<ellipse cx="173.6" cy="115.8" rx="13.4" ry="5.0" fill="none" stroke="#000" stroke-opacity="0.75" stroke-width="0.55" transform="rotate(-7 181 114.5)"/>
<ellipse cx="171.5" cy="116.1" rx="16.0" ry="6.0" fill="none" stroke="#000" stroke-opacity="0.75" stroke-width="0.55" transform="rotate(-7 181 114.5)"/>
<path d="M155.0 117.0 C156.2 116.7 159.5 114.9 162.0 115.0 C164.5 115.1 169.8 116.7 170.0 117.5 C170.2 118.3 165.5 119.7 163.0 120.0 C160.5 120.3 156.3 119.6 155.0 119.5" fill="none" stroke="#000" stroke-width="0.50" stroke-opacity="0.70" />
<path d="M155.0 124.5 C158.3 124.6 169.0 125.0 175.0 125.0 C181.0 125.0 188.3 124.3 191.0 124.2" fill="none" stroke="#002000" stroke-width="0.60" stroke-opacity="0.70" />
<path d="M155.0 87.0 C159.2 87.1 171.7 88.2 180.0 87.5 C188.3 86.8 197.2 84.8 205.0 83.0 C212.8 81.2 223.3 77.6 227.0 76.5" fill="none" stroke="#301000" stroke-width="0.40" stroke-opacity="0.55" stroke-dasharray="0.8 0.5"/>
<path d="M155.0 93.5 C159.2 93.5 171.7 94.3 180.0 93.5 C188.3 92.7 197.2 90.5 205.0 88.5 C212.8 86.5 223.3 82.7 227.0 81.5" fill="none" stroke="#301000" stroke-width="0.40" stroke-opacity="0.55" stroke-dasharray="0.8 0.5"/>
<path d="M155.0 99.5 C159.2 99.4 171.7 100.0 180.0 99.0 C188.3 98.0 197.2 95.7 205.0 93.5 C212.8 91.3 223.3 87.2 227.0 86.0" fill="none" stroke="#301000" stroke-width="0.40" stroke-opacity="0.55" stroke-dasharray="0.8 0.5"/>
<path d="M155.0 104.5 C159.2 104.3 171.7 104.8 180.0 103.5 C188.3 102.2 197.2 99.3 205.0 97.0 C212.8 94.7 223.3 90.8 227.0 89.5" fill="none" stroke="#301000" stroke-width="0.40" stroke-opacity="0.55" stroke-dasharray="0.8 0.5"/>
<path d="M190.6 127.0 C190.9 125.7 191.4 121.6 192.3 119.0 C193.2 116.4 194.3 114.0 196.0 111.5 C197.7 109.0 199.9 106.2 202.5 104.0 C205.1 101.8 208.6 99.5 211.5 98.0 C214.4 96.5 216.9 96.0 220.0 95.3 C223.1 94.6 228.3 93.9 230.0 93.6 L230.0 131.0 L190.6 131.0Z" fill="#fff" />
<path d="M150 126.3H232V131H150Z" fill="#fff" />
</g>
</g>
<path d="M226.60 64H227V131H226.60ZM154 129.80H228V130H154Z" fill="#fff"/>
<line x1="154.7" y1="129.8" x2="226.6" y2="129.8" stroke="#111" stroke-width="0.7"/>
<g fill="#555" font-size="2.5">
<line x1="155.0" y1="129.8" x2="155.0" y2="130.8" stroke="#333" stroke-width="0.4"/>
<text x="155.0" y="133.3" text-anchor="middle" style="fill:#666">-0.05</text>
<line x1="169.2" y1="129.8" x2="169.2" y2="130.8" stroke="#333" stroke-width="0.4"/>
<text x="169.2" y="133.3" text-anchor="middle" style="fill:#666">-0.04</text>
<line x1="183.5" y1="129.8" x2="183.5" y2="130.8" stroke="#333" stroke-width="0.4"/>
<text x="183.5" y="133.3" text-anchor="middle" style="fill:#666">-0.03</text>
<line x1="197.8" y1="129.8" x2="197.8" y2="130.8" stroke="#333" stroke-width="0.4"/>
<text x="197.8" y="133.3" text-anchor="middle" style="fill:#666">-0.02</text>
<line x1="212.0" y1="129.8" x2="212.0" y2="130.8" stroke="#333" stroke-width="0.4"/>
<text x="212.0" y="133.3" text-anchor="middle" style="fill:#666">-0.01</text>
<line x1="226.2" y1="129.8" x2="226.2" y2="130.8" stroke="#333" stroke-width="0.4"/>
<text x="226.2" y="133.3" text-anchor="middle" style="fill:#666">0</text>
<line x1="154.2" y1="122.4" x2="155.6" y2="122.4" stroke="#333" stroke-width="0.4"/>
<text x="153.8" y="123.3" text-anchor="end" style="fill:#666">0.005</text>
<line x1="154.2" y1="115.4" x2="155.6" y2="115.4" stroke="#333" stroke-width="0.4"/>
<text x="153.8" y="116.3" text-anchor="end" style="fill:#666">0.01</text>
<line x1="154.2" y1="108.4" x2="155.6" y2="108.4" stroke="#333" stroke-width="0.4"/>
<text x="153.8" y="109.3" text-anchor="end" style="fill:#666">0.015</text>
<line x1="154.2" y1="101.4" x2="155.6" y2="101.4" stroke="#333" stroke-width="0.4"/>
<text x="153.8" y="102.3" text-anchor="end" style="fill:#666">0.02</text>
<line x1="154.2" y1="94.4" x2="155.6" y2="94.4" stroke="#333" stroke-width="0.4"/>
<text x="153.8" y="95.3" text-anchor="end" style="fill:#666">0.025</text>
<line x1="154.2" y1="87.4" x2="155.6" y2="87.4" stroke="#333" stroke-width="0.4"/>
<text x="153.8" y="88.3" text-anchor="end" style="fill:#666">0.03</text>
<line x1="154.2" y1="80.4" x2="155.6" y2="80.4" stroke="#333" stroke-width="0.4"/>
<text x="153.8" y="81.3" text-anchor="end" style="fill:#666">0.035</text>
<line x1="154.2" y1="73.4" x2="155.6" y2="73.4" stroke="#333" stroke-width="0.4"/>
<text x="153.8" y="74.3" text-anchor="end" style="fill:#666">0.04</text>
<line x1="154.2" y1="66.4" x2="155.6" y2="66.4" stroke="#333" stroke-width="0.4"/>
<text x="153.8" y="67.3" text-anchor="end" style="fill:#666">0.045</text>
</g>
<text x="189.8" y="136.4" font-size="2.6" font-weight="bold" text-anchor="middle" style="fill:#333">X</text>
<text x="147.6" y="98.5" font-size="2.6" font-weight="bold" text-anchor="middle" style="fill:#333">Y</text>
<g clip-path="url(#cpB)">
<rect x="318" y="58" width="198" height="154" fill="#fe0000"/>
<g filter="url(#b12)">
<path d="M326.0 212.0 C326.1 210.8 326.3 207.3 326.8 205.0 C327.3 202.7 328.1 199.9 329.0 198.0 C329.9 196.1 331.3 194.8 332.5 193.5 C333.7 192.2 334.9 191.4 336.3 190.2 C337.7 189.0 339.3 187.7 341.0 186.5 C342.7 185.3 344.5 184.5 346.5 183.3 C348.5 182.1 350.8 180.9 353.0 179.5 C355.2 178.1 356.3 177.4 360.0 175.0 C363.7 172.6 370.3 167.9 375.0 165.0 C379.7 162.1 382.2 160.5 388.0 157.5 C393.8 154.5 401.3 150.8 410.0 147.0 C418.7 143.2 428.3 139.1 440.0 134.6 C451.7 130.1 466.7 124.6 480.0 120.0 C493.3 115.4 513.3 109.2 520.0 107.0 L520.0 214.0 L326.0 214.0Z" fill="#ff1600" />
<path d="M327.5 212.0 C327.7 210.8 327.9 207.2 328.5 205.0 C329.1 202.8 329.9 200.8 331.0 199.0 C332.1 197.2 333.5 195.9 335.0 194.5 C336.5 193.1 338.2 191.8 340.0 190.5 C341.8 189.2 343.8 188.2 346.0 187.0 C348.2 185.8 350.3 184.5 353.0 183.5 C355.7 182.5 358.3 181.8 362.0 181.0 C365.7 180.2 369.5 179.4 375.0 179.0 C380.5 178.6 387.5 178.6 395.0 178.5 C402.5 178.4 410.8 179.0 420.0 178.5 C429.2 178.0 440.0 177.2 450.0 175.5 C460.0 173.8 468.3 171.1 480.0 168.0 C491.7 164.9 513.3 158.8 520.0 157.0 L520.0 214.0 L326.0 214.0Z" fill="#ff3400" />
<path d="M329.0 212.0 C329.2 211.0 329.3 208.0 330.0 206.0 C330.7 204.0 331.7 201.8 333.0 200.0 C334.3 198.2 336.0 196.5 338.0 195.0 C340.0 193.5 342.2 192.1 345.0 190.8 C347.8 189.6 350.8 188.3 355.0 187.5 C359.2 186.7 363.3 186.2 370.0 186.0 C376.7 185.8 386.7 185.9 395.0 186.0 C403.3 186.1 410.8 186.8 420.0 186.5 C429.2 186.2 440.0 185.8 450.0 184.5 C460.0 183.2 468.3 181.2 480.0 179.0 C491.7 176.8 513.3 172.3 520.0 171.0 L520.0 214.0 L326.0 214.0Z" fill="#ff5000" />
<path d="M338.0 200.0 C338.8 199.2 341.0 196.8 343.0 195.5 C345.0 194.2 346.3 193.3 350.0 192.5 C353.7 191.7 357.5 191.0 365.0 190.5 C372.5 190.0 385.8 189.6 395.0 189.5 C404.2 189.4 410.8 190.2 420.0 190.0 C429.2 189.8 440.0 189.6 450.0 188.5 C460.0 187.4 471.7 184.9 480.0 183.5 C488.3 182.1 493.3 181.1 500.0 180.0 C506.7 178.9 516.7 177.5 520.0 177.0 L520.0 214.0 L326.0 214.0Z" fill="#ff7000" />
<path d="M343.0 200.0 C343.7 199.6 345.5 198.2 347.0 197.5 C348.5 196.8 349.0 196.5 352.0 196.0 C355.0 195.5 357.8 194.9 365.0 194.5 C372.2 194.1 385.8 193.8 395.0 193.8 C404.2 193.9 410.8 194.8 420.0 194.8 C429.2 194.8 440.8 194.7 450.0 193.8 C459.2 192.9 467.5 190.9 475.0 189.5 C482.5 188.1 487.5 186.8 495.0 185.5 C502.5 184.2 515.8 182.6 520.0 182.0 L520.0 214.0 L326.0 214.0Z" fill="#ff9800" />
</g>
<g mask="url(#mNoseB)"><g filter="url(#b05)">
<path d="M327.2 212.6 C327.3 211.4 327.5 207.9 328.0 205.6 C328.5 203.2 329.3 200.7 330.3 198.8 C331.3 196.8 332.6 195.4 333.9 194.2 C335.2 192.9 336.4 192.1 337.9 191.0 C339.4 189.8 341.1 188.5 342.9 187.4 C344.7 186.2 346.6 185.2 348.9 184.2 C351.2 183.1 353.9 182.0 356.9 180.9 C359.9 179.8 365.2 178.1 366.9 177.6" fill="none" stroke="#30ff00" stroke-width="2.60" stroke-opacity="1.00" />
<path d="M329.2 213.8 C329.3 212.6 329.5 209.1 330.0 206.8 C330.5 204.5 331.3 201.9 332.3 200.0 C333.3 198.1 334.6 196.7 335.9 195.4 C337.1 194.1 338.4 193.3 339.9 192.2 C341.4 191.0 343.0 189.7 344.9 188.6 C346.7 187.4 348.5 186.4 350.9 185.4 C353.2 184.3 355.9 183.2 358.9 182.1 C361.9 181.0 367.2 179.3 368.9 178.8" fill="none" stroke="#d0ff00" stroke-width="1.80" stroke-opacity="1.00" />
<path d="M330.8 214.8 C330.9 213.6 331.1 210.1 331.6 207.8 C332.1 205.4 332.9 202.8 333.9 200.9 C334.9 199.0 336.2 197.6 337.5 196.3 C338.8 195.1 340.0 194.3 341.5 193.2 C343.0 192.0 344.7 190.7 346.5 189.6 C348.3 188.4 350.2 187.4 352.5 186.3 C354.8 185.3 357.5 184.2 360.5 183.1 C363.5 182.0 368.8 180.3 370.5 179.8" fill="none" stroke="#ffe000" stroke-width="1.80" stroke-opacity="1.00" />
<path d="M332.4 215.7 C332.6 214.6 332.7 211.0 333.2 208.7 C333.7 206.4 334.5 203.8 335.5 201.9 C336.5 200.0 337.9 198.6 339.1 197.3 C340.4 196.0 341.6 195.3 343.1 194.1 C344.6 193.0 346.3 191.7 348.1 190.5 C350.0 189.4 351.8 188.4 354.1 187.3 C356.5 186.3 359.1 185.1 362.1 184.0 C365.1 182.9 370.5 181.3 372.1 180.7" fill="none" stroke="#ffb000" stroke-width="1.60" stroke-opacity="0.90" />
<path d="M332.5 212.0 C332.6 210.8 332.6 207.0 333.2 205.0 C333.8 203.0 334.7 201.4 336.0 200.0 C337.3 198.6 339.0 197.4 341.0 196.5 C343.0 195.6 345.3 194.9 348.0 194.5 C350.7 194.1 353.7 194.0 357.0 194.0 C360.3 194.0 366.2 194.4 368.0 194.5" fill="none" stroke="#c0ff00" stroke-width="2.00" stroke-opacity="1.00" />
</g></g>
<g filter="url(#b05)">
<path d="M332.8 212 Q333.4 203 339.5 199.8 Q346 199.6 351 202.4 L351 212Z" fill="#20ff40" />
<path d="M333.8 212 Q334.4 204 339.7 201.2 Q344.5 201.3 347.6 204 L347.6 212Z" fill="#00e8f0" />
<path d="M334.6 212 Q335.2 205 339.8 202.6 Q343 203 344.6 205.5 L345 212Z" fill="#0078ff" />
<path d="M335.4 212 Q336 206.5 339.3 204.6 Q341.8 205 342.8 208 L342.6 212Z" fill="#0028f0" />
</g>
<g filter="url(#b05)">
<path d="M346.0 196.6 C347.0 196.4 349.7 195.8 352.0 195.6 C354.3 195.4 355.7 195.5 360.0 195.4 C364.3 195.3 373.1 195.1 378.0 195.0 C382.9 194.9 385.8 194.8 389.5 195.0 C393.2 195.2 394.9 195.6 400.0 195.9 C405.1 196.2 413.3 196.8 420.0 196.9 C426.7 197.0 434.2 197.0 440.0 196.6 C445.8 196.2 450.0 195.6 455.0 194.6 C460.0 193.6 465.0 192.0 470.0 190.8 C475.0 189.6 480.2 188.5 485.0 187.4 C489.8 186.3 493.8 185.4 499.0 184.3 C504.2 183.2 513.2 181.6 516.0 181.0" fill="none" stroke="#ffb800" stroke-width="2.00" stroke-opacity="0.90" />
<path d="M346.0 198.1 C347.0 197.9 349.7 197.3 352.0 197.1 C354.3 196.9 355.7 197.0 360.0 196.9 C364.3 196.8 373.1 196.6 378.0 196.5 C382.9 196.4 385.8 196.3 389.5 196.5 C393.2 196.7 394.9 197.1 400.0 197.4 C405.1 197.7 413.3 198.3 420.0 198.4 C426.7 198.5 434.2 198.5 440.0 198.1 C445.8 197.7 450.0 197.1 455.0 196.1 C460.0 195.1 465.0 193.5 470.0 192.3 C475.0 191.1 480.2 190.0 485.0 188.9 C489.8 187.8 493.8 186.9 499.0 185.8 C504.2 184.7 513.2 183.1 516.0 182.5" fill="none" stroke="#ffe400" stroke-width="2.20" stroke-opacity="1.00" />
<path d="M346.0 199.6 C347.0 199.4 349.7 198.8 352.0 198.6 C354.3 198.4 355.7 198.5 360.0 198.4 C364.3 198.3 373.1 198.1 378.0 198.0 C382.9 197.9 385.8 197.8 389.5 198.0 C393.2 198.2 394.9 198.6 400.0 198.9 C405.1 199.2 413.3 199.8 420.0 199.9 C426.7 200.0 434.2 200.0 440.0 199.6 C445.8 199.2 450.0 198.6 455.0 197.6 C460.0 196.6 465.0 195.0 470.0 193.8 C475.0 192.6 480.2 191.5 485.0 190.4 C489.8 189.3 493.8 188.4 499.0 187.3 C504.2 186.2 513.2 184.6 516.0 184.0" fill="none" stroke="#a0ff00" stroke-width="1.60" stroke-opacity="1.00" />
<path d="M346.0 200.8 C347.0 200.6 349.7 200.0 352.0 199.8 C354.3 199.6 355.7 199.7 360.0 199.6 C364.3 199.5 373.1 199.3 378.0 199.2 C382.9 199.1 385.8 199.0 389.5 199.2 C393.2 199.3 394.9 199.8 400.0 200.1 C405.1 200.4 413.3 201.0 420.0 201.1 C426.7 201.2 434.2 201.2 440.0 200.8 C445.8 200.4 450.0 199.8 455.0 198.8 C460.0 197.8 465.0 196.2 470.0 195.0 C475.0 193.8 480.2 192.7 485.0 191.6 C489.8 190.5 493.8 189.6 499.0 188.5 C504.2 187.4 513.2 185.8 516.0 185.2" fill="none" stroke="#30f020" stroke-width="1.60" stroke-opacity="1.00" />
<path d="M356.5 200.2 C357.4 200.2 359.8 200.1 362.0 200.0 C364.2 199.9 367.2 199.9 370.0 199.8 C372.8 199.7 377.1 199.6 378.5 199.6 L378.5 208.0 L356.5 208.0Z" fill="#00c030" />
<path d="M389.5 199.6 C391.2 199.7 394.9 200.1 400.0 200.4 C405.1 200.7 413.3 201.1 420.0 201.2 C426.7 201.3 434.2 201.2 440.0 200.8 C445.8 200.4 450.0 199.7 455.0 198.7 C460.0 197.7 465.0 196.0 470.0 194.8 C475.0 193.6 480.2 192.5 485.0 191.4 C489.8 190.3 496.7 188.8 499.0 188.3 L499.0 208.0 L389.5 208.0Z" fill="#00c830" />
</g>
<path d="M392.0 207.6 C395.0 207.3 402.0 205.9 410.0 205.6 C418.0 205.3 430.0 205.7 440.0 205.8 C450.0 205.9 461.5 205.9 470.0 206.2 C478.5 206.5 487.5 207.4 491.0 207.6Z" fill="#00c868" filter="url(#b05)"/>
<path d="M343.0 200.6 C343.4 200.2 344.4 198.7 345.5 198.2 C346.6 197.7 348.2 197.5 349.5 197.6 C350.8 197.7 352.7 198.5 353.5 199.0 C354.3 199.5 355.1 200.6 354.5 200.8 C353.9 201.0 351.3 200.1 350.0 200.0 C348.7 199.9 347.1 200.4 346.5 200.5Z" fill="#001000" fill-opacity="0.85"/>
<path d="M356.5 200.6 C357.4 200.6 359.8 200.5 362.0 200.4 C364.2 200.3 367.2 200.3 370.0 200.2 C372.8 200.1 377.1 200.0 378.5 200.0" fill="none" stroke="#001000" stroke-width="1.70" stroke-opacity="0.90" />
<path d="M358.0 202.0 C359.3 201.9 363.0 201.5 366.0 201.5 C369.0 201.5 374.2 201.2 376.0 202.0 C377.8 202.8 378.7 205.2 377.0 206.0 C375.3 206.8 369.2 206.8 366.0 206.8 C362.8 206.8 359.3 206.8 358.0 206.0 C356.7 205.2 358.0 202.7 358.0 202.0" fill="none" stroke="#001000" stroke-width="1.30" stroke-opacity="0.85" />
<path d="M362.0 204.0 C363.0 203.9 366.2 203.2 368.0 203.2 C369.8 203.2 373.0 203.7 373.0 204.0 C373.0 204.3 369.8 205.0 368.0 205.0 C366.2 205.0 363.0 204.2 362.0 204.0" fill="none" stroke="#000" stroke-width="0.70" stroke-opacity="0.80" />
<path d="M389.5 200.3 C391.2 200.4 394.9 200.8 400.0 201.1 C405.1 201.4 413.3 201.8 420.0 201.9 C426.7 202.0 434.2 201.9 440.0 201.5 C445.8 201.1 450.0 200.4 455.0 199.4 C460.0 198.4 465.0 196.7 470.0 195.5 C475.0 194.3 480.2 193.2 485.0 192.1 C489.8 191.0 496.7 189.5 499.0 189.0" fill="none" stroke="#001000" stroke-width="1.90" stroke-opacity="0.90" />
<path d="M391.0 201.5 C391.7 202.0 391.8 203.7 395.0 204.5 C398.2 205.3 402.5 205.9 410.0 206.3 C417.5 206.7 430.0 206.7 440.0 206.8 C450.0 206.9 461.8 206.9 470.0 206.8 C478.2 206.8 485.8 206.6 489.0 206.5" fill="none" stroke="#001000" stroke-width="1.30" stroke-opacity="0.85" />
<path d="M393.0 202.3 C394.2 202.5 395.5 202.9 400.0 203.2 C404.5 203.5 412.5 204.0 420.0 204.2 C427.5 204.4 440.8 204.5 445.0 204.6" fill="none" stroke="#002800" stroke-width="1.00" stroke-opacity="0.60" />
<path d="M445.0 203.5 C447.5 203.1 455.0 202.2 460.0 201.2 C465.0 200.2 470.2 198.8 475.0 197.5 C479.8 196.2 485.8 194.3 489.0 193.5 C492.2 192.7 493.5 191.8 494.0 192.5 C494.5 193.2 493.0 196.1 492.0 198.0 C491.0 199.9 491.7 202.8 488.0 204.0 C484.3 205.2 477.2 205.6 470.0 205.5 C462.8 205.4 449.2 203.8 445.0 203.5" fill="none" stroke="#000" stroke-width="1.20" stroke-opacity="0.80" />
<path d="M456.0 203.0 C458.3 202.5 465.3 201.1 470.0 200.0 C474.7 198.9 480.8 197.0 484.0 196.5 C487.2 196.0 488.8 196.0 489.0 197.0 C489.2 198.0 488.2 201.3 485.0 202.5 C481.8 203.7 474.8 203.9 470.0 204.0 C465.2 204.1 458.3 203.2 456.0 203.0" fill="none" stroke="#000" stroke-width="1.00" stroke-opacity="0.80" />
<path d="M466.0 202.3 C467.7 201.9 473.0 200.6 476.0 200.0 C479.0 199.4 483.3 198.6 484.0 199.0 C484.7 199.4 483.0 201.9 480.0 202.5 C477.0 203.1 468.3 202.3 466.0 202.3" fill="none" stroke="#000" stroke-width="0.90" stroke-opacity="0.80" />
<path d="M448.0 203.6 C450.3 203.0 457.0 201.2 462.0 199.8 C467.0 198.4 473.0 196.7 478.0 195.3 C483.0 193.9 489.1 191.9 492.0 191.2 C494.9 190.5 495.2 189.9 495.5 191.0 C495.8 192.1 494.5 195.6 493.5 198.0 C492.5 200.4 493.4 204.1 489.5 205.5 C485.6 206.9 476.9 206.8 470.0 206.5 C463.1 206.2 451.7 204.1 448.0 203.6Z" fill="#002000" fill-opacity="0.72" filter="url(#b05)"/>
<path d="M395.0 203.0 C397.5 203.2 405.0 203.9 410.0 204.0 C415.0 204.1 420.0 203.5 425.0 203.6 C430.0 203.7 437.5 204.2 440.0 204.3" fill="none" stroke="#40ff60" stroke-width="0.90" stroke-opacity="0.90" />
<path d="M318 182.5H347.0" fill="none" stroke="#200000" stroke-width="0.45" stroke-opacity="0.70" />
<path d="M318 190.0H335.0" fill="none" stroke="#200000" stroke-width="0.45" stroke-opacity="0.70" />
<path d="M318 196.0H331.0" fill="none" stroke="#200000" stroke-width="0.45" stroke-opacity="0.70" />
<path d="M318 200.5H329.5" fill="none" stroke="#200000" stroke-width="0.45" stroke-opacity="0.70" />
<path d="M318 204.5H328.5" fill="none" stroke="#200000" stroke-width="0.45" stroke-opacity="0.70" />
<path d="M318 208.0H327.5" fill="none" stroke="#200000" stroke-width="0.45" stroke-opacity="0.70" />
<path d="M347.0 182.5 C349.2 182.2 354.5 181.1 360.0 180.8 C365.5 180.6 371.7 180.8 380.0 181.0 C388.3 181.2 400.0 182.1 410.0 182.3 C420.0 182.5 430.0 182.6 440.0 182.0 C450.0 181.4 460.8 179.9 470.0 178.5 C479.2 177.1 487.3 175.0 495.0 173.5 C502.7 172.0 512.5 170.2 516.0 169.5" fill="none" stroke="#200800" stroke-width="0.50" stroke-opacity="0.75" />
<circle cx="403.0" cy="182.5" r="0.75" fill="#200" fill-opacity="0.65"/>
<circle cx="433.0" cy="182.2" r="0.75" fill="#200" fill-opacity="0.65"/>
<circle cx="463.0" cy="178.7" r="0.75" fill="#200" fill-opacity="0.65"/>
<circle cx="488.0" cy="173.7" r="0.75" fill="#200" fill-opacity="0.65"/>
<path d="M335.0 190.0 C336.7 189.2 340.8 186.5 345.0 185.5 C349.2 184.5 354.2 184.2 360.0 184.0 C365.8 183.8 371.7 184.1 380.0 184.5 C388.3 184.9 400.0 186.3 410.0 186.6 C420.0 186.9 430.0 187.0 440.0 186.2 C450.0 185.4 460.8 183.5 470.0 182.0 C479.2 180.5 487.3 178.5 495.0 177.0 C502.7 175.5 512.5 173.7 516.0 173.0" fill="none" stroke="#200800" stroke-width="0.50" stroke-opacity="0.75" />
<circle cx="368.7" cy="184.7" r="0.75" fill="#200" fill-opacity="0.65"/>
<circle cx="398.7" cy="186.8" r="0.75" fill="#200" fill-opacity="0.65"/>
<circle cx="428.7" cy="186.4" r="0.75" fill="#200" fill-opacity="0.65"/>
<circle cx="458.7" cy="182.2" r="0.75" fill="#200" fill-opacity="0.65"/>
<path d="M331.0 196.0 C332.5 195.0 336.5 191.4 340.0 190.0 C343.5 188.6 347.0 187.8 352.0 187.4 C357.0 187.0 362.0 187.2 370.0 187.6 C378.0 188.0 388.3 189.6 400.0 190.0 C411.7 190.4 428.3 190.8 440.0 190.0 C451.7 189.2 460.8 187.2 470.0 185.5 C479.2 183.8 487.3 181.5 495.0 180.0 C502.7 178.5 512.5 176.9 516.0 176.3" fill="none" stroke="#200800" stroke-width="0.50" stroke-opacity="0.75" />
<circle cx="354.4" cy="187.8" r="0.75" fill="#200" fill-opacity="0.65"/>
<circle cx="384.4" cy="190.2" r="0.75" fill="#200" fill-opacity="0.65"/>
<circle cx="424.4" cy="190.2" r="0.75" fill="#200" fill-opacity="0.65"/>
<circle cx="454.4" cy="185.7" r="0.75" fill="#200" fill-opacity="0.65"/>
<path d="M329.5 200.5 C330.9 199.3 334.6 195.2 338.0 193.5 C341.4 191.8 344.7 191.0 350.0 190.6 C355.3 190.2 361.7 190.5 370.0 191.0 C378.3 191.5 388.3 193.1 400.0 193.5 C411.7 193.9 428.3 194.4 440.0 193.6 C451.7 192.8 460.8 190.6 470.0 188.8 C479.2 187.0 487.3 184.6 495.0 183.0 C502.7 181.4 512.5 179.7 516.0 179.0" fill="none" stroke="#200800" stroke-width="0.50" stroke-opacity="0.75" />
<circle cx="350.1" cy="191.2" r="0.75" fill="#200" fill-opacity="0.65"/>
<circle cx="380.1" cy="193.7" r="0.75" fill="#200" fill-opacity="0.65"/>
<circle cx="420.1" cy="193.8" r="0.75" fill="#200" fill-opacity="0.65"/>
<circle cx="450.1" cy="189.0" r="0.75" fill="#200" fill-opacity="0.65"/>
<path d="M328.5 204.5 C329.9 203.2 333.6 198.3 337.0 196.5 C340.4 194.7 343.5 194.2 349.0 193.8 C354.5 193.5 361.5 194.0 370.0 194.4 C378.5 194.8 388.3 195.7 400.0 196.0 C411.7 196.3 428.3 197.0 440.0 196.2 C451.7 195.4 460.8 193.0 470.0 191.2 C479.2 189.4 487.3 187.0 495.0 185.3 C502.7 183.7 512.5 182.0 516.0 181.3" fill="none" stroke="#200800" stroke-width="0.50" stroke-opacity="0.75" />
<circle cx="345.8" cy="194.6" r="0.75" fill="#200" fill-opacity="0.65"/>
<circle cx="375.8" cy="196.2" r="0.75" fill="#200" fill-opacity="0.65"/>
<circle cx="415.8" cy="196.4" r="0.75" fill="#200" fill-opacity="0.65"/>
<circle cx="445.8" cy="191.4" r="0.75" fill="#200" fill-opacity="0.65"/>
<path d="M340.0 186.5 C341.7 186.0 345.8 184.2 350.0 183.5 C354.2 182.8 359.2 182.6 365.0 182.5 C370.8 182.4 377.5 182.7 385.0 183.0 C392.5 183.3 400.8 184.4 410.0 184.6 C419.2 184.8 430.0 184.9 440.0 184.2 C450.0 183.5 460.8 181.8 470.0 180.3 C479.2 178.8 487.3 176.8 495.0 175.3 C502.7 173.8 512.5 172.0 516.0 171.3" fill="none" stroke="#200800" stroke-width="0.50" stroke-opacity="0.75" />
<circle cx="356.5" cy="183.2" r="0.75" fill="#200" fill-opacity="0.65"/>
<circle cx="381.5" cy="184.8" r="0.75" fill="#200" fill-opacity="0.65"/>
<circle cx="411.5" cy="184.4" r="0.75" fill="#200" fill-opacity="0.65"/>
<circle cx="441.5" cy="180.5" r="0.75" fill="#200" fill-opacity="0.65"/>
<path d="M333.0 193.0 C334.5 192.1 338.3 189.0 342.0 187.8 C345.7 186.6 350.0 186.1 355.0 185.8 C360.0 185.5 364.5 185.6 372.0 186.0 C379.5 186.4 388.7 188.0 400.0 188.4 C411.3 188.8 428.3 189.0 440.0 188.2 C451.7 187.4 460.8 185.4 470.0 183.8 C479.2 182.2 487.3 180.0 495.0 178.5 C502.7 177.0 512.5 175.2 516.0 174.6" fill="none" stroke="#200800" stroke-width="0.50" stroke-opacity="0.75" />
<circle cx="339.2" cy="186.2" r="0.75" fill="#200" fill-opacity="0.65"/>
<circle cx="367.2" cy="188.6" r="0.75" fill="#200" fill-opacity="0.65"/>
<circle cx="407.2" cy="188.4" r="0.75" fill="#200" fill-opacity="0.65"/>
<circle cx="437.2" cy="184.0" r="0.75" fill="#200" fill-opacity="0.65"/>
<path d="M330.3 198.5 C331.8 197.4 335.6 193.4 339.0 191.8 C342.4 190.2 345.8 189.4 351.0 189.0 C356.2 188.6 361.8 188.8 370.0 189.3 C378.2 189.8 388.3 191.4 400.0 191.8 C411.7 192.2 428.3 192.6 440.0 191.8 C451.7 191.0 460.8 188.9 470.0 187.2 C479.2 185.5 487.3 183.1 495.0 181.5 C502.7 179.9 512.5 178.2 516.0 177.6" fill="none" stroke="#200800" stroke-width="0.50" stroke-opacity="0.75" />
<circle cx="332.9" cy="189.5" r="0.75" fill="#200" fill-opacity="0.65"/>
<circle cx="362.9" cy="192.0" r="0.75" fill="#200" fill-opacity="0.65"/>
<circle cx="402.9" cy="192.0" r="0.75" fill="#200" fill-opacity="0.65"/>
<circle cx="432.9" cy="187.4" r="0.75" fill="#200" fill-opacity="0.65"/>
<path d="M345.6 212 A10.4 9.9 0 0 1 356 201.3 L356.8 201.3 L356.8 207.6 L378.3 207.6 A11.2 9 0 0 1 389 198.8 L389.7 198.8 L389.7 207.6 L492 207.6 L492 212Z" fill="#fff" />
<path d="M378.3 212 A11.2 13 0 0 1 389.5 198.8 L389.5 212Z" fill="#fff" />
<path d="M490.0 208.0 C490.2 207.2 490.4 205.2 491.0 203.5 C491.6 201.8 492.3 199.4 493.5 197.5 C494.7 195.6 496.4 193.4 498.2 192.0 C499.9 190.6 502.0 189.8 504.0 189.0 C506.0 188.2 507.8 187.9 510.0 187.3 C512.2 186.7 515.8 185.9 517.0 185.6 L517.0 212.0 L490.0 212.0Z" fill="#fff" />
<rect x="515.6" y="57" width="2" height="156" fill="#fff"/><rect x="317" y="57" width="200" height="1.6" fill="#fff"/>
</g>
<line x1="341.3" y1="185.0" x2="341.3" y2="204.0" stroke="#fff" stroke-width="1.1"/>
<path d="M341.3 182.5L339.7 186.2L342.9 186.2Z" fill="#fff"/>
<line x1="389.1" y1="130.0" x2="389.1" y2="192.0" stroke="#fff" stroke-width="1.1"/>
<path d="M389.1 127.5L387.5 131.2L390.7 131.2Z" fill="#fff"/>
<line x1="444.0" y1="130.0" x2="444.0" y2="192.0" stroke="#fff" stroke-width="1.1"/>
<path d="M444.0 127.5L442.4 131.2L445.6 131.2Z" fill="#fff"/>
<line x1="489.6" y1="180.5" x2="489.6" y2="200.0" stroke="#fff" stroke-width="1.1"/>
<path d="M489.6 178.0L488.0 181.7L491.2 181.7Z" fill="#fff"/>
<rect x="358.0" y="65.1" width="60.9" height="53.4" fill="#fff"/>
<clipPath id="cb1"><rect x="365" y="71" width="48" height="42"/></clipPath>
<g clip-path="url(#cb1)">
<rect x="364.8" y="70.0" width="48.3" height="43.7" fill="#fe0000"/>
<g filter="url(#b08)">
<path d="M370.5 114.0 C370.6 112.8 370.6 109.2 371.3 107.0 C372.1 104.8 373.4 102.9 375.0 101.0 C376.6 99.1 378.7 97.3 381.0 95.5 C383.3 93.7 386.2 92.0 389.0 90.3 C391.8 88.6 395.2 87.0 398.0 85.5 C400.8 84.0 403.3 82.6 406.0 81.3 C408.7 80.0 412.7 78.1 414.0 77.5 L414.0 114.0 L370.5 114.0Z" fill="#ff2c00" />
<path d="M371.9 114.8 C372.0 113.7 371.9 110.0 372.7 107.8 C373.4 105.7 374.7 103.7 376.4 101.8 C378.0 99.9 380.0 98.1 382.4 96.3 C384.7 94.5 387.5 92.8 390.4 91.1 C393.2 89.5 396.5 87.8 399.4 86.3 C402.2 84.8 404.7 83.5 407.4 82.1 C410.0 80.8 414.0 79.0 415.4 78.3 L414.0 114.0 L370.5 114.0Z" fill="#ff4c00" />
<path d="M373.6 115.9 C373.8 114.8 373.7 111.1 374.4 108.9 C375.2 106.8 376.5 104.8 378.1 102.9 C379.8 101.0 381.8 99.2 384.1 97.4 C386.5 95.6 389.3 93.9 392.1 92.2 C395.0 90.6 398.3 88.9 401.1 87.4 C404.0 85.9 406.5 84.6 409.1 83.2 C411.8 81.9 415.8 80.1 417.1 79.4 L414.0 114.0 L370.5 114.0Z" fill="#ff6400" />
<path d="M378.0 107.0 C378.7 106.2 380.3 103.2 382.0 102.0 C383.7 100.8 385.3 100.1 388.0 99.5 C390.7 98.9 393.7 98.5 398.0 98.2 C402.3 97.9 411.3 97.6 414.0 97.5 L414.0 114.0 L370.5 114.0Z" fill="#ff7c00" />
<path d="M380.0 108.0 C380.7 107.4 382.3 105.1 384.0 104.3 C385.7 103.5 387.3 103.3 390.0 103.0 C392.7 102.7 396.0 102.7 400.0 102.6 C404.0 102.5 411.7 102.6 414.0 102.6 L414.0 114.0 L370.5 114.0Z" fill="#ffa000" />
</g>
<radialGradient id="b1g" gradientUnits="userSpaceOnUse" cx="378" cy="111" r="19"><stop offset="0" stop-color="#fff"/><stop offset="0.5" stop-color="#fff"/><stop offset="0.95" stop-color="#000"/></radialGradient>
<mask id="b1m" maskUnits="userSpaceOnUse" x="360" y="65" width="60" height="55"><rect x="360" y="65" width="60" height="55" fill="url(#b1g)"/></mask>
<g mask="url(#b1m)"><g filter="url(#b05)">
<path d="M371.4 114.4 C371.6 113.2 371.6 109.5 372.3 107.4 C373.1 105.3 374.4 103.4 376.0 101.6 C377.6 99.8 379.6 98.0 381.8 96.4 C384.1 94.8 386.8 93.4 389.6 92.0 C392.4 90.6 397.1 88.5 398.6 87.8" fill="none" stroke="#40ff00" stroke-width="1.50" stroke-opacity="1.00" />
<path d="M372.6 115.1 C372.8 113.9 372.7 110.2 373.5 108.1 C374.3 106.0 375.6 104.1 377.2 102.3 C378.8 100.5 380.7 98.7 383.0 97.1 C385.3 95.5 388.0 94.1 390.8 92.7 C393.6 91.3 398.3 89.2 399.8 88.5" fill="none" stroke="#e0f000" stroke-width="1.20" stroke-opacity="1.00" />
<path d="M373.7 115.8 C373.8 114.6 373.8 110.9 374.6 108.8 C375.3 106.6 376.7 104.8 378.3 103.0 C379.9 101.1 381.8 99.4 384.1 97.8 C386.3 96.2 389.1 94.8 391.9 93.4 C394.7 91.9 399.4 89.9 400.9 89.2" fill="none" stroke="#ffc000" stroke-width="1.20" stroke-opacity="1.00" />
<path d="M374.6 113.0 C374.8 111.9 375.1 108.3 376.0 106.6 C376.9 104.9 378.3 103.9 380.0 103.0 C381.7 102.1 385.0 101.6 386.0 101.3" fill="none" stroke="#a0ff00" stroke-width="1.40" stroke-opacity="1.00" />
</g></g>
<g filter="url(#b05)">
<path d="M384 104.2 Q398 103.4 414 103.8" fill="none" stroke="#ffe000" stroke-width="1.20" stroke-opacity="0.90" />
<path d="M372.6 114 Q373.2 106.6 377.6 104.6 Q381.2 105 382.8 114Z" fill="#20ff60" />
<path d="M373.4 114 Q374 107.4 377.6 105.8 Q380.8 106.4 382 114Z" fill="#00d0ff" />
<path d="M374.2 114 Q374.8 108.4 377.5 107 Q380 107.8 381.2 114Z" fill="#0040ff" />
<path d="M388 105.6H414V112H388Z" fill="#00e040" />
</g>
<path d="M388.5 106 H402" fill="none" stroke="#001000" stroke-width="1.00" stroke-opacity="0.85" />
<path d="M390.0 107.8 C390.8 107.7 393.3 107.4 395.0 107.4 C396.7 107.4 399.2 107.4 400.0 107.8 C400.8 108.2 400.8 109.5 400.0 110.0 C399.2 110.5 396.7 110.6 395.0 110.6 C393.3 110.6 390.8 110.5 390.0 110.0 C389.2 109.5 390.0 108.2 390.0 107.8" fill="none" stroke="#001000" stroke-width="0.80" stroke-opacity="0.80" />
<path d="M409 106 H412" fill="none" stroke="#001000" stroke-width="1.00" stroke-opacity="0.85" />
<path d="M380.8 114 A7.2 7 0 0 1 388 106 L388.3 106 L388.3 111.4 L402 111.4 A6.5 5.6 0 0 1 408.3 105.8 L408.7 105.8 L408.7 111.4 L414 111.4 L414 114Z" fill="#fff" />
<path d="M401.8 114 A6.5 8 0 0 1 408.4 105.8 L408.4 114Z" fill="#fff" />
<path d="M366.0 92.0 C368.3 92.0 376.2 92.7 380.0 92.0 C383.8 91.3 385.7 89.1 389.0 88.0 C392.3 86.9 396.2 86.0 400.0 85.3 C403.8 84.5 410.0 83.8 412.0 83.5" fill="none" stroke="#301000" stroke-width="0.35" stroke-opacity="0.50" />
<path d="M366.0 98.0 C367.8 97.9 373.7 98.2 377.0 97.5 C380.3 96.8 382.5 94.7 386.0 93.5 C389.5 92.3 393.7 91.2 398.0 90.5 C402.3 89.8 409.7 89.2 412.0 89.0" fill="none" stroke="#301000" stroke-width="0.35" stroke-opacity="0.50" />
<path d="M366.0 103.0 C367.3 102.9 371.0 103.2 374.0 102.5 C377.0 101.8 380.0 99.7 384.0 98.5 C388.0 97.3 393.3 96.2 398.0 95.6 C402.7 94.9 409.7 94.8 412.0 94.6" fill="none" stroke="#301000" stroke-width="0.35" stroke-opacity="0.50" />
</g>
<path d="M365 70H365.80V114H365ZM412.10 70H413V114H412.10ZM364 112.70H414V113H364Z" fill="#fff"/>
<line x1="365.5" y1="112.7" x2="412.1" y2="112.7" stroke="#111" stroke-width="0.7"/>
<g fill="#555" font-size="2.0">
<line x1="365.6" y1="112.7" x2="365.6" y2="113.7" stroke="#333" stroke-width="0.4"/>
<text x="365.6" y="115.7" text-anchor="middle" style="fill:#666">-0.19</text>
<line x1="377.2" y1="112.7" x2="377.2" y2="113.7" stroke="#333" stroke-width="0.4"/>
<text x="377.2" y="115.7" text-anchor="middle" style="fill:#666">-0.18</text>
<line x1="388.8" y1="112.7" x2="388.8" y2="113.7" stroke="#333" stroke-width="0.4"/>
<text x="388.8" y="115.7" text-anchor="middle" style="fill:#666">-0.17</text>
<line x1="400.4" y1="112.7" x2="400.4" y2="113.7" stroke="#333" stroke-width="0.4"/>
<text x="400.4" y="115.7" text-anchor="middle" style="fill:#666">-0.16</text>
<line x1="412.0" y1="112.7" x2="412.0" y2="113.7" stroke="#333" stroke-width="0.4"/>
<text x="412.0" y="115.7" text-anchor="middle" style="fill:#666">-0.15</text>
<line x1="365.0" y1="107.4" x2="366.4" y2="107.4" stroke="#333" stroke-width="0.4"/>
<text x="364.6" y="108.1" text-anchor="end" style="fill:#666">0.01</text>
<line x1="365.0" y1="101.7" x2="366.4" y2="101.7" stroke="#333" stroke-width="0.4"/>
<text x="364.6" y="102.4" text-anchor="end" style="fill:#666">0.02</text>
<line x1="365.0" y1="95.9" x2="366.4" y2="95.9" stroke="#333" stroke-width="0.4"/>
<text x="364.6" y="96.6" text-anchor="end" style="fill:#666">0.03</text>
<line x1="365.0" y1="90.2" x2="366.4" y2="90.2" stroke="#333" stroke-width="0.4"/>
<text x="364.6" y="90.9" text-anchor="end" style="fill:#666">0.04</text>
<line x1="365.0" y1="84.4" x2="366.4" y2="84.4" stroke="#333" stroke-width="0.4"/>
<text x="364.6" y="85.1" text-anchor="end" style="fill:#666">0.05</text>
<line x1="365.0" y1="78.7" x2="366.4" y2="78.7" stroke="#333" stroke-width="0.4"/>
<text x="364.6" y="79.4" text-anchor="end" style="fill:#666">0.06</text>
<line x1="365.0" y1="72.9" x2="366.4" y2="72.9" stroke="#333" stroke-width="0.4"/>
<text x="364.6" y="73.6" text-anchor="end" style="fill:#666">0.07</text>
</g>
<text x="388.0" y="118.3" font-size="2.1" font-weight="bold" text-anchor="middle" style="fill:#333">X</text>
<text x="361.2" y="93.2" font-size="2.1" font-weight="bold" text-anchor="middle" style="fill:#333">Y</text>
<line x1="419.5" y1="65" x2="419.5" y2="118.5" stroke="#fe0000" stroke-width="0.9"/>
<rect x="420.0" y="65.1" width="60.8" height="53.4" fill="#fff"/>
<clipPath id="cb2"><rect x="427" y="71" width="47" height="41"/></clipPath>
<g clip-path="url(#cb2)">
<rect x="426.4" y="70.0" width="48.1" height="43.7" fill="#fe0000"/>
<path d="M425.0 88.5 C428.3 87.6 436.5 85.1 445.0 83.0 C453.5 80.9 470.8 77.2 476.0 76.0 L476.0 114.0 L425.0 114.0Z" fill="#ff1a00" filter="url(#b08)"/>
<g filter="url(#b12)">
<path d="M425.0 97.0 C429.2 96.8 441.5 97.0 450.0 96.0 C458.5 95.0 471.7 91.8 476.0 91.0 L476.0 114.0 L425.0 114.0Z" fill="#ff2c00" />
<path d="M425.0 100.6 C429.2 100.6 441.5 101.2 450.0 100.6 C458.5 100.0 471.7 97.6 476.0 97.0 L476.0 114.0 L425.0 114.0Z" fill="#ff4400" />
</g>
<g filter="url(#b08)">
<path d="M425.0 102.5 C429.2 102.7 441.5 103.9 450.0 103.5 C458.5 103.1 471.7 100.6 476.0 100.0 L476.0 114.0 L425.0 114.0Z" fill="#ff7800" />
<path d="M425.0 104.4 C427.5 104.6 435.0 105.4 440.0 105.6 C445.0 105.8 449.0 106.2 455.0 105.6 C461.0 105.0 472.5 102.6 476.0 102.0 L476.0 114.0 L425.0 114.0Z" fill="#ffc000" />
<path d="M425.0 105.8 C427.5 106.0 435.0 107.0 440.0 107.2 C445.0 107.4 449.0 107.8 455.0 107.2 C461.0 106.6 472.5 104.1 476.0 103.5 L476.0 114.0 L425.0 114.0Z" fill="#e8f800" />
</g>
<path d="M428.6 107.0 C430.5 107.3 436.1 108.3 440.0 108.6 C443.9 108.9 448.3 109.0 452.0 108.8 C455.7 108.6 458.6 108.3 462.0 107.6 C465.4 106.9 470.8 104.9 472.6 104.4 L472.0 112.0 L428.6 112.0Z" fill="#00e040" filter="url(#b05)"/>
<path d="M425 105H428.8V114H425Z" fill="#fff" />
<path d="M428.6 107.3 C430.5 107.6 436.1 108.6 440.0 108.9 C443.9 109.2 448.3 109.3 452.0 109.1 C455.7 108.9 458.6 108.6 462.0 107.9 C465.4 107.2 470.8 105.2 472.6 104.7" fill="none" stroke="#001000" stroke-width="0.90" stroke-opacity="0.80" />
<path d="M452.0 109.8 C453.7 109.6 458.8 109.4 462.0 108.8 C465.2 108.2 469.6 106.1 471.0 106.2 C472.4 106.3 472.0 108.8 470.5 109.5 C469.0 110.2 465.1 110.5 462.0 110.6 C458.9 110.6 453.7 109.9 452.0 109.8" fill="none" stroke="#000" stroke-width="0.90" stroke-opacity="0.80" />
<path d="M430 110.8 H470" fill="none" stroke="#002000" stroke-width="0.70" stroke-opacity="0.70" />
<path d="M431 109.3 Q442 110.3 452 110" fill="none" stroke="#60ff60" stroke-width="0.70" stroke-opacity="0.90" />
<path d="M427.0 98.0 C430.8 97.9 442.2 98.4 450.0 97.6 C457.8 96.8 470.0 93.8 474.0 93.0" fill="none" stroke="#301000" stroke-width="0.35" stroke-opacity="0.50" />
<path d="M427.0 101.6 C430.8 101.6 442.2 102.4 450.0 101.8 C457.8 101.2 470.0 98.6 474.0 98.0" fill="none" stroke="#301000" stroke-width="0.35" stroke-opacity="0.50" />
</g>
<path d="M427 70H427.40V113H427ZM473.50 70H474V113H473.50ZM426 111.60H475V112H426Z" fill="#fff"/>
<line x1="427.1" y1="112.7" x2="473.5" y2="112.7" stroke="#111" stroke-width="0.7"/>
<g fill="#555" font-size="2.0">
<line x1="431.0" y1="112.7" x2="431.0" y2="113.7" stroke="#333" stroke-width="0.4"/>
<text x="431.0" y="115.7" text-anchor="middle" style="fill:#666">-0.11</text>
<line x1="439.5" y1="112.7" x2="439.5" y2="113.7" stroke="#333" stroke-width="0.4"/>
<text x="439.5" y="115.7" text-anchor="middle" style="fill:#666">-0.1</text>
<line x1="448.0" y1="112.7" x2="448.0" y2="113.7" stroke="#333" stroke-width="0.4"/>
<text x="448.0" y="115.7" text-anchor="middle" style="fill:#666">-0.09</text>
<line x1="456.5" y1="112.7" x2="456.5" y2="113.7" stroke="#333" stroke-width="0.4"/>
<text x="456.5" y="115.7" text-anchor="middle" style="fill:#666">-0.08</text>
<line x1="465.0" y1="112.7" x2="465.0" y2="113.7" stroke="#333" stroke-width="0.4"/>
<text x="465.0" y="115.7" text-anchor="middle" style="fill:#666">-0.07</text>
<line x1="473.5" y1="112.7" x2="473.5" y2="113.7" stroke="#333" stroke-width="0.4"/>
<text x="473.5" y="115.7" text-anchor="middle" style="fill:#666">-0.06</text>
<line x1="426.6" y1="104.0" x2="428.0" y2="104.0" stroke="#333" stroke-width="0.4"/>
<text x="426.2" y="104.7" text-anchor="end" style="fill:#666">0.01</text>
<line x1="426.6" y1="95.8" x2="428.0" y2="95.8" stroke="#333" stroke-width="0.4"/>
<text x="426.2" y="96.5" text-anchor="end" style="fill:#666">0.02</text>
<line x1="426.6" y1="87.7" x2="428.0" y2="87.7" stroke="#333" stroke-width="0.4"/>
<text x="426.2" y="88.4" text-anchor="end" style="fill:#666">0.03</text>
<line x1="426.6" y1="79.5" x2="428.0" y2="79.5" stroke="#333" stroke-width="0.4"/>
<text x="426.2" y="80.2" text-anchor="end" style="fill:#666">0.04</text>
<line x1="426.6" y1="71.4" x2="428.0" y2="71.4" stroke="#333" stroke-width="0.4"/>
<text x="426.2" y="72.1" text-anchor="end" style="fill:#666">0.05</text>
</g>
<text x="449.4" y="118.3" font-size="2.1" font-weight="bold" text-anchor="middle" style="fill:#333">X</text>
<text x="423.0" y="93.2" font-size="2.1" font-weight="bold" text-anchor="middle" style="fill:#333">Y</text>
<rect x="320.8" y="123.1" width="61.7" height="53.9" fill="#fff"/>
<clipPath id="ci3"><rect x="333" y="129" width="45" height="43"/></clipPath>
<g clip-path="url(#ci3)">
<rect x="332.7" y="128.0" width="45.4" height="44.6" fill="#fe0000"/>
<g transform="translate(337.00 171.60) scale(1.340) translate(-79 -129)">
<g filter="url(#b12)">
<path d="M79.0 130.0 C79.1 128.7 79.1 124.5 79.8 122.0 C80.5 119.5 81.6 117.3 83.0 115.0 C84.4 112.7 86.0 110.3 88.0 108.0 C90.0 105.7 92.3 103.2 95.0 101.0 C97.7 98.8 100.8 96.8 104.0 95.0 C107.2 93.2 110.7 91.6 114.0 90.0 C117.3 88.4 120.7 87.0 124.0 85.5 C127.3 84.0 129.7 82.8 134.0 81.0 C138.3 79.2 144.0 77.0 150.0 75.0 C156.0 73.0 166.7 70.0 170.0 69.0 L170.0 131.0 L79.0 131.0Z" fill="#ff2000" />
<path d="M81.2 131.4 C81.4 130.0 81.4 125.9 82.0 123.4 C82.7 120.9 83.9 118.7 85.2 116.4 C86.6 114.0 88.2 111.7 90.2 109.4 C92.2 107.0 94.6 104.5 97.2 102.4 C99.9 100.2 103.1 98.2 106.2 96.4 C109.4 94.5 112.9 93.0 116.2 91.4 C119.6 89.8 122.9 88.4 126.2 86.9 C129.6 85.4 131.9 84.1 136.2 82.4 C140.6 80.6 146.2 78.4 152.2 76.4 C158.2 74.4 168.9 71.4 172.2 70.4 L170.0 131.0 L79.0 131.0Z" fill="#ff4000" />
<path d="M84.0 133.0 C84.1 131.7 84.1 127.5 84.8 125.0 C85.4 122.5 86.6 120.4 88.0 118.0 C89.3 115.7 91.0 113.4 93.0 111.0 C95.0 108.7 97.3 106.2 100.0 104.0 C102.6 101.9 105.8 99.9 109.0 98.0 C112.1 96.2 115.6 94.6 119.0 93.0 C122.3 91.4 125.6 90.0 128.9 88.5 C132.3 87.0 134.6 85.8 138.9 84.0 C143.3 82.3 148.9 80.0 154.9 78.0 C160.9 76.0 171.6 73.0 174.9 72.0 L170.0 131.0 L79.0 131.0Z" fill="#ff5c00" />
<path d="M88.0 120.0 C89.0 118.5 91.7 113.3 94.0 111.0 C96.3 108.7 99.0 107.2 102.0 106.0 C105.0 104.8 108.3 104.1 112.0 103.5 C115.7 102.9 119.3 102.8 124.0 102.5 C128.7 102.2 132.3 102.2 140.0 102.0 C147.7 101.8 165.0 101.2 170.0 101.0 L170.0 131.0 L79.0 131.0Z" fill="#ff7800" />
<path d="M92.0 122.0 C92.8 120.7 95.0 116.0 97.0 114.0 C99.0 112.0 101.3 110.8 104.0 110.0 C106.7 109.2 109.7 109.1 113.0 109.0 C116.3 108.9 119.5 109.3 124.0 109.5 C128.5 109.7 132.3 109.9 140.0 110.0 C147.7 110.1 165.0 110.0 170.0 110.0 L170.0 131.0 L79.0 131.0Z" fill="#ff9a00" />
</g>
<radialGradient id="mk3g" gradientUnits="userSpaceOnUse" cx="92" cy="127" r="40"><stop offset="0" stop-color="#fff"/><stop offset="0.5" stop-color="#fff"/><stop offset="0.95" stop-color="#000"/></radialGradient>
<mask id="mk3" maskUnits="userSpaceOnUse" x="40" y="40" width="160" height="100"><rect x="40" y="40" width="160" height="100" fill="url(#mk3g)"/></mask>
<g mask="url(#mk3)"><g filter="url(#b08)">
<path d="M80.9 131.7 C81.0 130.2 81.0 125.3 81.7 122.7 C82.3 120.0 83.5 118.0 84.9 115.7 C86.3 113.3 88.0 110.9 90.1 108.7 C92.1 106.4 94.4 104.2 97.1 102.2 C99.7 100.2 102.9 98.4 106.1 96.7 C109.2 95.0 112.7 93.5 116.1 92.0 C119.4 90.5 124.4 88.4 126.1 87.7" fill="none" stroke="#30ff10" stroke-width="3.60" stroke-opacity="1.00" />
<path d="M83.3 133.1 C83.4 131.6 83.4 126.8 84.1 124.1 C84.8 121.5 85.9 119.5 87.3 117.1 C88.7 114.8 90.5 112.4 92.5 110.1 C94.5 107.9 96.8 105.6 99.5 103.6 C102.2 101.6 105.3 99.8 108.5 98.1 C111.7 96.4 115.2 94.9 118.5 93.4 C121.8 91.9 126.8 89.9 128.5 89.1" fill="none" stroke="#c8ff00" stroke-width="2.40" stroke-opacity="1.00" />
<path d="M85.2 134.3 C85.3 132.8 85.3 128.0 86.0 125.3 C86.7 122.6 87.8 120.6 89.2 118.3 C90.6 116.0 92.4 113.5 94.4 111.3 C96.4 109.0 98.7 106.8 101.4 104.8 C104.1 102.8 107.2 101.0 110.4 99.3 C113.6 97.6 117.1 96.1 120.4 94.6 C123.7 93.1 128.7 91.0 130.4 90.3" fill="none" stroke="#ffe400" stroke-width="2.40" stroke-opacity="1.00" />
<path d="M87.2 135.5 C87.3 134.0 87.3 129.2 88.0 126.5 C88.6 123.8 89.8 121.8 91.2 119.5 C92.6 117.2 94.3 114.8 96.4 112.5 C98.4 110.3 100.7 108.0 103.4 106.0 C106.0 104.0 109.2 102.2 112.4 100.5 C115.5 98.8 119.0 97.3 122.4 95.8 C125.7 94.3 130.7 92.2 132.4 91.5" fill="none" stroke="#ffb400" stroke-width="2.40" stroke-opacity="0.90" />
<path d="M89.0 131.0 C89.2 129.3 89.0 123.8 90.0 121.0 C91.0 118.2 93.0 116.2 95.0 114.5 C97.0 112.8 99.3 111.6 102.0 110.5 C104.7 109.4 107.7 108.8 111.0 108.0 C114.3 107.2 118.2 106.8 122.0 106.0 C125.8 105.2 132.0 103.5 134.0 103.0" fill="none" stroke="#ffe000" stroke-width="2.20" stroke-opacity="0.90" />
<path d="M87.0 131.0 C87.2 129.5 87.2 124.5 88.0 122.0 C88.8 119.5 90.3 117.6 92.0 116.0 C93.7 114.4 97.0 113.1 98.0 112.5" fill="none" stroke="#80ff00" stroke-width="2.40" stroke-opacity="0.90" />
</g></g>
<g filter="url(#b05)">
<path d="M83.4 131 Q84 119.5 91.6 115.6 Q97 115.4 100 119.5 L98.5 131Z" fill="#30ff30" />
<path d="M84.6 131 Q85.3 121 91.9 117.3 Q96.3 117.3 98.8 120.6 L97.9 131Z" fill="#00f0e0" />
<path d="M85.6 131 Q86.2 122 92 118.8 Q95.8 119 97.9 122 L97.4 131Z" fill="#0090ff" />
<path d="M86.6 131 Q87 124 91.2 121.2 Q94.6 121.6 96 125 L95.4 131Z" fill="#0030ff" />
</g>
<g transform="translate(101.3 117.6) scale(0.95 0.90) translate(-101.3 -117.6)">
<path d="M96.4 117.7 L98.9 121 L101.2 117.7Z" fill="#30e850" />
<path d="M96.2 117.8 L98.9 121.3 L101.4 117.9" fill="none" stroke="#001000" stroke-width="0.98" stroke-opacity="0.85" />
<path d="M96.2 117.6 L101.4 117.6" fill="none" stroke="#001000" stroke-width="0.88" stroke-opacity="0.85" />
</g>
<g transform="translate(-3.2 3.3)">
<g filter="url(#b05)">
<path d="M110 115.5 Q125 116 150 121" fill="none" stroke="#ffe000" stroke-width="2.20" stroke-opacity="1.00" />
<path d="M110.5 116.8 Q125 117.5 150 122.5 V128 H110.5Z" fill="#00e040" />
</g>
<path d="M111.5 117.3 Q124 118 138 121" fill="none" stroke="#001000" stroke-width="1.10" stroke-opacity="0.85" />
<path d="M113.0 119.5 C114.5 119.5 119.0 119.0 122.0 119.3 C125.0 119.5 129.0 120.3 131.0 121.0 C133.0 121.7 134.5 122.8 134.0 123.5 C133.5 124.2 130.7 125.2 128.0 125.5 C125.3 125.8 120.5 125.6 118.0 125.3 C115.5 125.0 113.8 124.5 113.0 123.5 C112.2 122.5 113.0 120.2 113.0 119.5" fill="none" stroke="#000" stroke-width="0.70" stroke-opacity="0.80" />
<path d="M117.0 121.0 C118.2 121.0 122.0 120.8 124.0 121.0 C126.0 121.2 128.8 122.0 129.0 122.5 C129.2 123.0 126.8 123.8 125.0 124.0 C123.2 124.2 119.3 124.1 118.0 123.6 C116.7 123.1 117.2 121.4 117.0 121.0" fill="none" stroke="#000" stroke-width="0.60" stroke-opacity="0.80" />
</g>
<path d="M108.3 126.5 H138" fill="none" stroke="#003000" stroke-width="0.80" stroke-opacity="0.70" />
<path d="M60 100.0 H93.0" fill="none" stroke="#300" stroke-width="0.35" stroke-opacity="0.12" />
<path d="M60 106.0 H89.0" fill="none" stroke="#300" stroke-width="0.35" stroke-opacity="0.12" />
<path d="M60 111.0 H86.0" fill="none" stroke="#300" stroke-width="0.35" stroke-opacity="0.12" />
<path d="M60 116.0 H83.5" fill="none" stroke="#300" stroke-width="0.35" stroke-opacity="0.12" />
<path d="M60 121.0 H81.5" fill="none" stroke="#300" stroke-width="0.35" stroke-opacity="0.12" />
<path d="M93.0 100.0 C94.5 99.2 98.5 96.5 102.0 95.0 C105.5 93.5 108.7 92.2 114.0 91.0 C119.3 89.8 130.7 88.5 134.0 88.0" fill="none" stroke="#300" stroke-width="0.35" stroke-opacity="0.25" />
<path d="M89.0 106.0 C90.5 105.1 94.2 102.1 98.0 100.5 C101.8 98.9 106.0 97.5 112.0 96.5 C118.0 95.5 130.3 94.8 134.0 94.5" fill="none" stroke="#300" stroke-width="0.35" stroke-opacity="0.25" />
<path d="M86.0 111.0 C87.5 110.0 91.0 106.6 95.0 105.0 C99.0 103.4 103.5 102.2 110.0 101.5 C116.5 100.8 130.0 101.1 134.0 101.0" fill="none" stroke="#300" stroke-width="0.35" stroke-opacity="0.25" />
<path d="M83.5 116.0 C84.9 114.9 87.9 111.1 92.0 109.5 C96.1 107.9 101.0 106.8 108.0 106.5 C115.0 106.2 129.7 107.8 134.0 108.0" fill="none" stroke="#300" stroke-width="0.35" stroke-opacity="0.25" />
<path d="M97.6 131 L97.6 129 A10.0 9.7 0 0 1 107.6 119.3 L108.0 119.3 L108.0 127.4 L170 127.4 L170 131Z" fill="#fff" />
</g>
</g>
<path d="M333 128H333.70V173H333ZM377.10 128H378V173H377.10ZM332 171.60H379V172H332Z" fill="#fff"/>
<line x1="333.4" y1="171.6" x2="377.1" y2="171.6" stroke="#111" stroke-width="0.7"/>
<g fill="#555" font-size="2.2">
<line x1="339.9" y1="171.6" x2="339.9" y2="172.6" stroke="#333" stroke-width="0.4"/>
<text x="339.9" y="174.8" text-anchor="middle" style="fill:#666">-0.19</text>
<line x1="352.3" y1="171.6" x2="352.3" y2="172.6" stroke="#333" stroke-width="0.4"/>
<text x="352.3" y="174.8" text-anchor="middle" style="fill:#666">-0.18</text>
<line x1="364.7" y1="171.6" x2="364.7" y2="172.6" stroke="#333" stroke-width="0.4"/>
<text x="364.7" y="174.8" text-anchor="middle" style="fill:#666">-0.17</text>
<line x1="377.1" y1="171.6" x2="377.1" y2="172.6" stroke="#333" stroke-width="0.4"/>
<text x="377.1" y="174.8" text-anchor="middle" style="fill:#666">-0.16</text>
<line x1="332.9" y1="159.1" x2="334.3" y2="159.1" stroke="#333" stroke-width="0.4"/>
<text x="332.5" y="159.9" text-anchor="end" style="fill:#666">0.01</text>
<line x1="332.9" y1="146.8" x2="334.3" y2="146.8" stroke="#333" stroke-width="0.4"/>
<text x="332.5" y="147.6" text-anchor="end" style="fill:#666">0.02</text>
<line x1="332.9" y1="134.5" x2="334.3" y2="134.5" stroke="#333" stroke-width="0.4"/>
<text x="332.5" y="135.3" text-anchor="end" style="fill:#666">0.03</text>
</g>
<text x="354.4" y="177.6" font-size="2.3" font-weight="bold" text-anchor="middle" style="fill:#333">X</text>
<text x="328.8" y="151.3" font-size="2.3" font-weight="bold" text-anchor="middle" style="fill:#333">Y</text>
<rect x="452.4" y="122.7" width="61.4" height="53.3" fill="#fff"/>
<clipPath id="ci4"><rect x="460" y="128" width="47" height="42"/></clipPath>
<g clip-path="url(#ci4)">
<rect x="459.8" y="127.7" width="47.9" height="43.3" fill="#fe0000"/>
<g transform="translate(460.80 128.70) scale(0.641 0.645) translate(-155 -65)">
<path d="M150 80 L215 62 L232 62 L232 131 L150 131Z" fill="#ff1200" filter="url(#b08)"/>
<g filter="url(#b2)">
<path d="M150.0 79.0 C154.2 79.1 166.7 79.5 175.0 79.4 C183.3 79.3 190.8 79.8 200.0 78.4 C209.2 77.0 225.0 72.2 230.0 71.0 L230.0 131.0 L150.0 131.0Z" fill="#ff2400" />
<path d="M150.0 84.5 C154.2 84.7 166.7 85.5 175.0 85.4 C183.3 85.3 190.8 85.3 200.0 83.9 C209.2 82.5 225.0 78.2 230.0 77.0 L230.0 131.0 L150.0 131.0Z" fill="#ff4400" />
<path d="M150.0 90.5 C154.2 90.7 166.7 91.6 175.0 91.4 C183.3 91.2 190.8 90.9 200.0 89.4 C209.2 87.9 225.0 83.7 230.0 82.5 L230.0 131.0 L150.0 131.0Z" fill="#ff6800" />
<path d="M150.0 95.5 C154.2 95.7 166.7 96.7 175.0 96.4 C183.3 96.1 190.8 95.5 200.0 93.9 C209.2 92.3 225.0 88.2 230.0 87.0 L230.0 131.0 L150.0 131.0Z" fill="#ff9000" />
</g>
<g filter="url(#b08)">
<path d="M150.0 99.0 C154.2 99.1 167.0 99.9 175.0 99.4 C183.0 98.9 191.8 97.3 198.0 96.2 C204.2 95.0 206.7 93.8 212.0 92.5 C217.3 91.2 227.0 89.2 230.0 88.5 L230.0 131.0 L150.0 131.0Z" fill="#ffc800" />
<path d="M150.0 102.0 C154.2 102.0 167.3 102.4 175.0 101.9 C182.7 101.4 190.2 100.1 196.0 98.9 C201.8 97.8 204.3 96.3 210.0 95.0 C215.7 93.7 226.7 91.7 230.0 91.0 L230.0 131.0 L150.0 131.0Z" fill="#f0f000" />
<path d="M150.0 105.0 C154.2 104.9 167.7 104.9 175.0 104.4 C182.3 103.9 189.2 102.9 194.0 102.2 C198.8 101.4 200.7 100.8 204.0 99.9 C207.3 98.9 209.7 97.6 214.0 96.5 C218.3 95.4 227.3 93.6 230.0 93.0 L230.0 131.0 L150.0 131.0Z" fill="#90ff00" />
</g>
<path d="M150.0 107.2 C152.5 107.1 160.0 106.9 165.0 106.7 C170.0 106.5 175.5 106.3 180.0 106.0 C184.5 105.7 188.5 105.2 192.0 104.7 C195.5 104.3 199.5 103.7 201.0 103.5 L201.0 128.0 L150.0 128.0Z" fill="#00e840" filter="url(#b05)"/>
<path d="M150.0 118.5 C153.3 118.8 162.7 119.5 170.0 120.1 C177.3 120.7 190.0 121.7 194.0 122.0 L194.0 128.0 L150.0 128.0Z" fill="#00b868" filter="url(#b08)"/>
<path d="M155.0 108.0 C157.5 107.9 165.0 107.6 170.0 107.3 C175.0 107.0 180.3 106.8 185.0 106.4 C189.7 106.0 195.8 105.0 198.0 104.8" fill="none" stroke="#001000" stroke-width="1.00" stroke-opacity="0.85" />
<path d="M198.0 104.8 C197.5 106.0 196.0 109.6 195.0 112.0 C194.0 114.4 193.2 117.2 192.0 119.0 C190.8 120.8 191.7 122.2 188.0 122.5 C184.3 122.8 175.5 121.7 170.0 121.0 C164.5 120.3 157.5 119.0 155.0 118.6" fill="none" stroke="#001000" stroke-width="0.90" stroke-opacity="0.80" />
<ellipse cx="182.0" cy="111.3" rx="3.0" ry="1.6" fill="none" stroke="#000" stroke-opacity="0.75" stroke-width="0.55" transform="rotate(-7 181 114.5)"/>
<ellipse cx="179.9" cy="111.6" rx="5.6" ry="2.9" fill="none" stroke="#000" stroke-opacity="0.75" stroke-width="0.55" transform="rotate(-7 181 114.5)"/>
<ellipse cx="177.8" cy="111.9" rx="8.2" ry="4.2" fill="none" stroke="#000" stroke-opacity="0.75" stroke-width="0.55" transform="rotate(-7 181 114.5)"/>
<ellipse cx="175.7" cy="112.2" rx="10.8" ry="5.5" fill="none" stroke="#000" stroke-opacity="0.75" stroke-width="0.55" transform="rotate(-7 181 114.5)"/>
<ellipse cx="173.6" cy="112.5" rx="13.4" ry="6.8" fill="none" stroke="#000" stroke-opacity="0.75" stroke-width="0.55" transform="rotate(-7 181 114.5)"/>
<ellipse cx="171.5" cy="112.8" rx="16.0" ry="8.1" fill="none" stroke="#000" stroke-opacity="0.75" stroke-width="0.55" transform="rotate(-7 181 114.5)"/>
<path d="M155.0 111.0 C156.2 110.8 159.5 109.5 162.0 109.8 C164.5 110.2 169.8 112.4 170.0 113.3 C170.2 114.2 165.5 114.9 163.0 115.0 C160.5 115.0 156.3 113.7 155.0 113.5" fill="none" stroke="#000" stroke-width="0.50" stroke-opacity="0.70" />
<path d="M155.0 124.5 C158.3 124.6 169.0 125.0 175.0 125.0 C181.0 125.0 188.3 124.3 191.0 124.2" fill="none" stroke="#002000" stroke-width="0.60" stroke-opacity="0.70" />
<path d="M155.0 87.0 C159.2 87.1 171.7 88.2 180.0 87.5 C188.3 86.8 197.2 84.8 205.0 83.0 C212.8 81.2 223.3 77.6 227.0 76.5" fill="none" stroke="#301000" stroke-width="0.40" stroke-opacity="0.55" stroke-dasharray="0.8 0.5"/>
<path d="M155.0 93.5 C159.2 93.5 171.7 94.3 180.0 93.5 C188.3 92.7 197.2 90.5 205.0 88.5 C212.8 86.5 223.3 82.7 227.0 81.5" fill="none" stroke="#301000" stroke-width="0.40" stroke-opacity="0.55" stroke-dasharray="0.8 0.5"/>
<path d="M155.0 99.5 C159.2 99.4 171.7 100.0 180.0 99.0 C188.3 98.0 197.2 95.7 205.0 93.5 C212.8 91.3 223.3 87.2 227.0 86.0" fill="none" stroke="#301000" stroke-width="0.40" stroke-opacity="0.55" stroke-dasharray="0.8 0.5"/>
<path d="M155.0 104.5 C159.2 104.3 171.7 104.8 180.0 103.5 C188.3 102.2 197.2 99.3 205.0 97.0 C212.8 94.7 223.3 90.8 227.0 89.5" fill="none" stroke="#301000" stroke-width="0.40" stroke-opacity="0.55" stroke-dasharray="0.8 0.5"/>
<path d="M190.6 127.0 C190.9 125.7 191.4 121.6 192.3 119.0 C193.2 116.4 194.3 114.0 196.0 111.5 C197.7 109.0 199.9 106.2 202.5 104.0 C205.1 101.8 208.6 99.5 211.5 98.0 C214.4 96.5 216.9 96.0 220.0 95.3 C223.1 94.6 228.3 93.9 230.0 93.6 L230.0 131.0 L190.6 131.0Z" fill="#fff" />
<path d="M150 126.3H232V131H150Z" fill="#fff" />
</g>
</g>
<path d="M460 127H460.80V171H460ZM506.70 127H507V171H506.70ZM459 128H508V128.70H459Z" fill="#fff"/>
<line x1="460.5" y1="170.0" x2="506.7" y2="170.0" stroke="#111" stroke-width="0.7"/>
<g fill="#555" font-size="2.0">
<line x1="460.4" y1="170.0" x2="460.4" y2="171.0" stroke="#333" stroke-width="0.4"/>
<text x="460.4" y="173.0" text-anchor="middle" style="fill:#666">-0.05</text>
<line x1="469.6" y1="170.0" x2="469.6" y2="171.0" stroke="#333" stroke-width="0.4"/>
<text x="469.6" y="173.0" text-anchor="middle" style="fill:#666">-0.04</text>
<line x1="478.9" y1="170.0" x2="478.9" y2="171.0" stroke="#333" stroke-width="0.4"/>
<text x="478.9" y="173.0" text-anchor="middle" style="fill:#666">-0.03</text>
<line x1="488.1" y1="170.0" x2="488.1" y2="171.0" stroke="#333" stroke-width="0.4"/>
<text x="488.1" y="173.0" text-anchor="middle" style="fill:#666">-0.02</text>
<line x1="497.4" y1="170.0" x2="497.4" y2="171.0" stroke="#333" stroke-width="0.4"/>
<text x="497.4" y="173.0" text-anchor="middle" style="fill:#666">-0.01</text>
<line x1="506.6" y1="170.0" x2="506.6" y2="171.0" stroke="#333" stroke-width="0.4"/>
<text x="506.6" y="173.0" text-anchor="middle" style="fill:#666">0</text>
<line x1="460.0" y1="166.0" x2="461.4" y2="166.0" stroke="#333" stroke-width="0.4"/>
<text x="459.6" y="166.7" text-anchor="end" style="fill:#666">0.005</text>
<line x1="460.0" y1="161.4" x2="461.4" y2="161.4" stroke="#333" stroke-width="0.4"/>
<text x="459.6" y="162.1" text-anchor="end" style="fill:#666">0.01</text>
<line x1="460.0" y1="156.8" x2="461.4" y2="156.8" stroke="#333" stroke-width="0.4"/>
<text x="459.6" y="157.5" text-anchor="end" style="fill:#666">0.015</text>
<line x1="460.0" y1="152.1" x2="461.4" y2="152.1" stroke="#333" stroke-width="0.4"/>
<text x="459.6" y="152.8" text-anchor="end" style="fill:#666">0.02</text>
<line x1="460.0" y1="147.5" x2="461.4" y2="147.5" stroke="#333" stroke-width="0.4"/>
<text x="459.6" y="148.2" text-anchor="end" style="fill:#666">0.025</text>
<line x1="460.0" y1="142.9" x2="461.4" y2="142.9" stroke="#333" stroke-width="0.4"/>
<text x="459.6" y="143.6" text-anchor="end" style="fill:#666">0.03</text>
<line x1="460.0" y1="138.3" x2="461.4" y2="138.3" stroke="#333" stroke-width="0.4"/>
<text x="459.6" y="139.0" text-anchor="end" style="fill:#666">0.035</text>
<line x1="460.0" y1="133.7" x2="461.4" y2="133.7" stroke="#333" stroke-width="0.4"/>
<text x="459.6" y="134.4" text-anchor="end" style="fill:#666">0.04</text>
<line x1="460.0" y1="129.0" x2="461.4" y2="129.0" stroke="#333" stroke-width="0.4"/>
<text x="459.6" y="129.7" text-anchor="end" style="fill:#666">0.045</text>
</g>
<text x="482.8" y="175.6" font-size="2.1" font-weight="bold" text-anchor="middle" style="fill:#333">X</text>
<text x="456.3" y="150.7" font-size="2.1" font-weight="bold" text-anchor="middle" style="fill:#333">Y</text>
<line x1="38.3" y1="32" x2="38.3" y2="211.5" stroke="#000" stroke-width="1.1"/>
<line x1="37.5" y1="211" x2="236.1" y2="211" stroke="#000" stroke-width="1"/>
<line x1="235.6" y1="207.3" x2="235.6" y2="211.5" stroke="#000" stroke-width="1"/>
<text x="35.4" y="211.6" font-size="7" text-anchor="end">0</text>
<line x1="38.0" y1="162.0" x2="42.0" y2="162.0" stroke="#000" stroke-width="1"/>
<text x="35.4" y="164.5" font-size="7" text-anchor="end">0.05</text>
<line x1="38.0" y1="113.0" x2="42.0" y2="113.0" stroke="#000" stroke-width="1"/>
<text x="35.4" y="115.5" font-size="7" text-anchor="end">0.1</text>
<line x1="38.0" y1="64.0" x2="42.0" y2="64.0" stroke="#000" stroke-width="1"/>
<text x="35.4" y="66.5" font-size="7" text-anchor="end">0.15</text>
<line x1="38.0" y1="201.2" x2="40.0" y2="201.2" stroke="#000" stroke-opacity="0.25" stroke-width="0.5"/>
<line x1="38.0" y1="191.4" x2="40.0" y2="191.4" stroke="#000" stroke-opacity="0.25" stroke-width="0.5"/>
<line x1="38.0" y1="181.6" x2="40.0" y2="181.6" stroke="#000" stroke-opacity="0.25" stroke-width="0.5"/>
<line x1="38.0" y1="171.8" x2="40.0" y2="171.8" stroke="#000" stroke-opacity="0.25" stroke-width="0.5"/>
<line x1="38.0" y1="152.2" x2="40.0" y2="152.2" stroke="#000" stroke-opacity="0.25" stroke-width="0.5"/>
<line x1="38.0" y1="142.4" x2="40.0" y2="142.4" stroke="#000" stroke-opacity="0.25" stroke-width="0.5"/>
<line x1="38.0" y1="132.6" x2="40.0" y2="132.6" stroke="#000" stroke-opacity="0.25" stroke-width="0.5"/>
<line x1="38.0" y1="122.8" x2="40.0" y2="122.8" stroke="#000" stroke-opacity="0.25" stroke-width="0.5"/>
<line x1="38.0" y1="103.2" x2="40.0" y2="103.2" stroke="#000" stroke-opacity="0.25" stroke-width="0.5"/>
<line x1="38.0" y1="93.4" x2="40.0" y2="93.4" stroke="#000" stroke-opacity="0.25" stroke-width="0.5"/>
<line x1="38.0" y1="83.6" x2="40.0" y2="83.6" stroke="#000" stroke-opacity="0.25" stroke-width="0.5"/>
<line x1="38.0" y1="73.8" x2="40.0" y2="73.8" stroke="#000" stroke-opacity="0.25" stroke-width="0.5"/>
<text x="38.3" y="218.8" font-size="7" text-anchor="middle">-0.2</text>
<line x1="87.4" y1="211" x2="87.4" y2="207.5" stroke="#000" stroke-width="0.9"/>
<text x="87.7" y="218.8" font-size="7" text-anchor="middle">-0.15</text>
<line x1="136.8" y1="211" x2="136.8" y2="207.5" stroke="#000" stroke-width="0.9"/>
<text x="137.1" y="218.8" font-size="7" text-anchor="middle">-0.1</text>
<line x1="186.2" y1="211" x2="186.2" y2="207.5" stroke="#000" stroke-width="0.9"/>
<text x="186.5" y="218.8" font-size="7" text-anchor="middle">-0.05</text>
<text x="235.6" y="218.8" font-size="7" text-anchor="middle">0</text>
<line x1="47.9" y1="211" x2="47.9" y2="209" stroke="#000" stroke-opacity="0.6" stroke-width="0.5"/>
<line x1="57.8" y1="211" x2="57.8" y2="209" stroke="#000" stroke-opacity="0.6" stroke-width="0.5"/>
<line x1="67.6" y1="211" x2="67.6" y2="209" stroke="#000" stroke-opacity="0.6" stroke-width="0.5"/>
<line x1="77.5" y1="211" x2="77.5" y2="209" stroke="#000" stroke-opacity="0.6" stroke-width="0.5"/>
<line x1="97.3" y1="211" x2="97.3" y2="209" stroke="#000" stroke-opacity="0.6" stroke-width="0.5"/>
<line x1="107.2" y1="211" x2="107.2" y2="209" stroke="#000" stroke-opacity="0.6" stroke-width="0.5"/>
<line x1="117.0" y1="211" x2="117.0" y2="209" stroke="#000" stroke-opacity="0.6" stroke-width="0.5"/>
<line x1="126.9" y1="211" x2="126.9" y2="209" stroke="#000" stroke-opacity="0.6" stroke-width="0.5"/>
<line x1="146.7" y1="211" x2="146.7" y2="209" stroke="#000" stroke-opacity="0.6" stroke-width="0.5"/>
<line x1="156.6" y1="211" x2="156.6" y2="209" stroke="#000" stroke-opacity="0.6" stroke-width="0.5"/>
<line x1="166.4" y1="211" x2="166.4" y2="209" stroke="#000" stroke-opacity="0.6" stroke-width="0.5"/>
<line x1="176.3" y1="211" x2="176.3" y2="209" stroke="#000" stroke-opacity="0.6" stroke-width="0.5"/>
<line x1="196.1" y1="211" x2="196.1" y2="209" stroke="#000" stroke-opacity="0.6" stroke-width="0.5"/>
<line x1="206.0" y1="211" x2="206.0" y2="209" stroke="#000" stroke-opacity="0.6" stroke-width="0.5"/>
<line x1="215.8" y1="211" x2="215.8" y2="209" stroke="#000" stroke-opacity="0.6" stroke-width="0.5"/>
<line x1="225.7" y1="211" x2="225.7" y2="209" stroke="#000" stroke-opacity="0.6" stroke-width="0.5"/>
<text x="136.3" y="227.2" font-size="9" font-weight="bold" text-anchor="middle">X</text>
<text transform="translate(20.6 123) rotate(-90)" font-size="9" font-weight="bold" text-anchor="middle">Y</text>
<text x="135.0" y="253.6" font-size="14.2" text-anchor="middle" style="font-family:'Liberation Serif',serif">(<tspan font-weight="bold">a</tspan>)</text>
<line x1="318.3" y1="32" x2="318.3" y2="211.5" stroke="#000" stroke-width="1.1"/>
<line x1="317.5" y1="211" x2="516.1" y2="211" stroke="#000" stroke-width="1"/>
<line x1="515.6" y1="207.3" x2="515.6" y2="211.5" stroke="#000" stroke-width="1"/>
<text x="315.4" y="211.6" font-size="7" text-anchor="end">0</text>
<line x1="318.0" y1="162.0" x2="322.0" y2="162.0" stroke="#000" stroke-width="1"/>
<text x="315.4" y="164.5" font-size="7" text-anchor="end">0.05</text>
<line x1="318.0" y1="113.0" x2="322.0" y2="113.0" stroke="#000" stroke-width="1"/>
<text x="315.4" y="115.5" font-size="7" text-anchor="end">0.1</text>
<line x1="318.0" y1="64.0" x2="322.0" y2="64.0" stroke="#000" stroke-width="1"/>
<text x="315.4" y="66.5" font-size="7" text-anchor="end">0.15</text>
<line x1="318.0" y1="201.2" x2="320.0" y2="201.2" stroke="#000" stroke-opacity="0.25" stroke-width="0.5"/>
<line x1="318.0" y1="191.4" x2="320.0" y2="191.4" stroke="#000" stroke-opacity="0.25" stroke-width="0.5"/>
<line x1="318.0" y1="181.6" x2="320.0" y2="181.6" stroke="#000" stroke-opacity="0.25" stroke-width="0.5"/>
<line x1="318.0" y1="171.8" x2="320.0" y2="171.8" stroke="#000" stroke-opacity="0.25" stroke-width="0.5"/>
<line x1="318.0" y1="152.2" x2="320.0" y2="152.2" stroke="#000" stroke-opacity="0.25" stroke-width="0.5"/>
<line x1="318.0" y1="142.4" x2="320.0" y2="142.4" stroke="#000" stroke-opacity="0.25" stroke-width="0.5"/>
<line x1="318.0" y1="132.6" x2="320.0" y2="132.6" stroke="#000" stroke-opacity="0.25" stroke-width="0.5"/>
<line x1="318.0" y1="122.8" x2="320.0" y2="122.8" stroke="#000" stroke-opacity="0.25" stroke-width="0.5"/>
<line x1="318.0" y1="103.2" x2="320.0" y2="103.2" stroke="#000" stroke-opacity="0.25" stroke-width="0.5"/>
<line x1="318.0" y1="93.4" x2="320.0" y2="93.4" stroke="#000" stroke-opacity="0.25" stroke-width="0.5"/>
<line x1="318.0" y1="83.6" x2="320.0" y2="83.6" stroke="#000" stroke-opacity="0.25" stroke-width="0.5"/>
<line x1="318.0" y1="73.8" x2="320.0" y2="73.8" stroke="#000" stroke-opacity="0.25" stroke-width="0.5"/>
<text x="318.3" y="218.8" font-size="7" text-anchor="middle">-0.2</text>
<line x1="367.4" y1="211" x2="367.4" y2="207.5" stroke="#000" stroke-width="0.9"/>
<text x="367.7" y="218.8" font-size="7" text-anchor="middle">-0.15</text>
<line x1="416.8" y1="211" x2="416.8" y2="207.5" stroke="#000" stroke-width="0.9"/>
<text x="417.1" y="218.8" font-size="7" text-anchor="middle">-0.1</text>
<line x1="466.2" y1="211" x2="466.2" y2="207.5" stroke="#000" stroke-width="0.9"/>
<text x="466.5" y="218.8" font-size="7" text-anchor="middle">-0.05</text>
<text x="515.6" y="218.8" font-size="7" text-anchor="middle">0</text>
<line x1="327.9" y1="211" x2="327.9" y2="209" stroke="#000" stroke-opacity="0.6" stroke-width="0.5"/>
<line x1="337.8" y1="211" x2="337.8" y2="209" stroke="#000" stroke-opacity="0.6" stroke-width="0.5"/>
<line x1="347.6" y1="211" x2="347.6" y2="209" stroke="#000" stroke-opacity="0.6" stroke-width="0.5"/>
<line x1="357.5" y1="211" x2="357.5" y2="209" stroke="#000" stroke-opacity="0.6" stroke-width="0.5"/>
<line x1="377.3" y1="211" x2="377.3" y2="209" stroke="#000" stroke-opacity="0.6" stroke-width="0.5"/>
<line x1="387.2" y1="211" x2="387.2" y2="209" stroke="#000" stroke-opacity="0.6" stroke-width="0.5"/>
<line x1="397.0" y1="211" x2="397.0" y2="209" stroke="#000" stroke-opacity="0.6" stroke-width="0.5"/>
<line x1="406.9" y1="211" x2="406.9" y2="209" stroke="#000" stroke-opacity="0.6" stroke-width="0.5"/>
<line x1="426.7" y1="211" x2="426.7" y2="209" stroke="#000" stroke-opacity="0.6" stroke-width="0.5"/>
<line x1="436.6" y1="211" x2="436.6" y2="209" stroke="#000" stroke-opacity="0.6" stroke-width="0.5"/>
<line x1="446.4" y1="211" x2="446.4" y2="209" stroke="#000" stroke-opacity="0.6" stroke-width="0.5"/>
<line x1="456.3" y1="211" x2="456.3" y2="209" stroke="#000" stroke-opacity="0.6" stroke-width="0.5"/>
<line x1="476.1" y1="211" x2="476.1" y2="209" stroke="#000" stroke-opacity="0.6" stroke-width="0.5"/>
<line x1="486.0" y1="211" x2="486.0" y2="209" stroke="#000" stroke-opacity="0.6" stroke-width="0.5"/>
<line x1="495.8" y1="211" x2="495.8" y2="209" stroke="#000" stroke-opacity="0.6" stroke-width="0.5"/>
<line x1="505.7" y1="211" x2="505.7" y2="209" stroke="#000" stroke-opacity="0.6" stroke-width="0.5"/>
<text x="416.3" y="227.2" font-size="9" font-weight="bold" text-anchor="middle">X</text>
<text transform="translate(300.6 123) rotate(-90)" font-size="9" font-weight="bold" text-anchor="middle">Y</text>
<text x="415.0" y="253.6" font-size="14.2" text-anchor="middle" style="font-family:'Liberation Serif',serif">(<tspan font-weight="bold">b</tspan>)</text>
</svg></body></html>
